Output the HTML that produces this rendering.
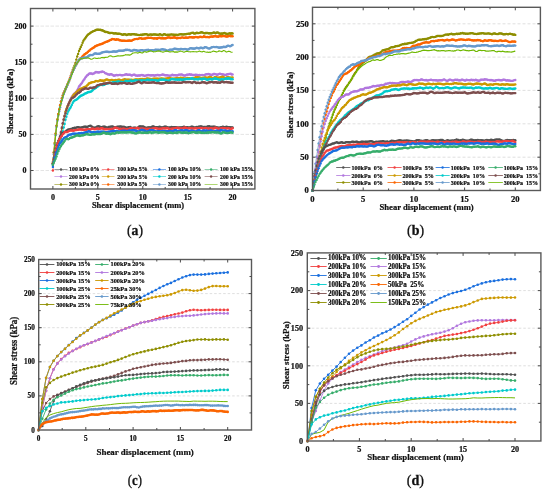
<!DOCTYPE html>
<html><head><meta charset="utf-8"><title>Shear stress vs displacement</title>
<style>html,body{margin:0;padding:0;background:#fff;}svg{display:block;}text{font-family:'Liberation Serif', serif;fill:#111;} .b{stroke:#111;stroke-width:0.22px;} .c{stroke:#111;stroke-width:0.3px;}</style>
</head><body>
<svg width="550" height="493" viewBox="0 0 550 493">
<defs><marker id="m0" viewBox="-2 -2 4 4" markerWidth="4" markerHeight="4" markerUnits="userSpaceOnUse" refX="0" refY="0"><circle r="1.2" fill="#515151"/></marker><marker id="n0" viewBox="-2 -2 4 4" markerWidth="4" markerHeight="4" markerUnits="userSpaceOnUse" refX="0" refY="0"><circle r="1.3" fill="#515151"/></marker><marker id="m1" viewBox="-2 -2 4 4" markerWidth="4" markerHeight="4" markerUnits="userSpaceOnUse" refX="0" refY="0"><circle r="1.2" fill="#F14040"/></marker><marker id="n1" viewBox="-2 -2 4 4" markerWidth="4" markerHeight="4" markerUnits="userSpaceOnUse" refX="0" refY="0"><circle r="1.3" fill="#F14040"/></marker><marker id="m2" viewBox="-2 -2 4 4" markerWidth="4" markerHeight="4" markerUnits="userSpaceOnUse" refX="0" refY="0"><circle r="1.2" fill="#1A6FDF"/></marker><marker id="n2" viewBox="-2 -2 4 4" markerWidth="4" markerHeight="4" markerUnits="userSpaceOnUse" refX="0" refY="0"><circle r="1.3" fill="#1A6FDF"/></marker><marker id="m3" viewBox="-2 -2 4 4" markerWidth="4" markerHeight="4" markerUnits="userSpaceOnUse" refX="0" refY="0"><circle r="1.2" fill="#37AD6B"/></marker><marker id="n3" viewBox="-2 -2 4 4" markerWidth="4" markerHeight="4" markerUnits="userSpaceOnUse" refX="0" refY="0"><circle r="1.3" fill="#37AD6B"/></marker><marker id="m4" viewBox="-2 -2 4 4" markerWidth="4" markerHeight="4" markerUnits="userSpaceOnUse" refX="0" refY="0"><circle r="1.2" fill="#B177DE"/></marker><marker id="n4" viewBox="-2 -2 4 4" markerWidth="4" markerHeight="4" markerUnits="userSpaceOnUse" refX="0" refY="0"><circle r="1.3" fill="#B177DE"/></marker><marker id="m5" viewBox="-2 -2 4 4" markerWidth="4" markerHeight="4" markerUnits="userSpaceOnUse" refX="0" refY="0"><circle r="1.2" fill="#CC9900"/></marker><marker id="n5" viewBox="-2 -2 4 4" markerWidth="4" markerHeight="4" markerUnits="userSpaceOnUse" refX="0" refY="0"><circle r="1.3" fill="#CC9900"/></marker><marker id="m6" viewBox="-2 -2 4 4" markerWidth="4" markerHeight="4" markerUnits="userSpaceOnUse" refX="0" refY="0"><circle r="1.2" fill="#00CBCC"/></marker><marker id="n6" viewBox="-2 -2 4 4" markerWidth="4" markerHeight="4" markerUnits="userSpaceOnUse" refX="0" refY="0"><circle r="1.3" fill="#00CBCC"/></marker><marker id="m7" viewBox="-2 -2 4 4" markerWidth="4" markerHeight="4" markerUnits="userSpaceOnUse" refX="0" refY="0"><circle r="1.2" fill="#7D4E4E"/></marker><marker id="n7" viewBox="-2 -2 4 4" markerWidth="4" markerHeight="4" markerUnits="userSpaceOnUse" refX="0" refY="0"><circle r="1.3" fill="#7D4E4E"/></marker><marker id="m8" viewBox="-2 -2 4 4" markerWidth="4" markerHeight="4" markerUnits="userSpaceOnUse" refX="0" refY="0"><circle r="1.2" fill="#8E8E00"/></marker><marker id="n8" viewBox="-2 -2 4 4" markerWidth="4" markerHeight="4" markerUnits="userSpaceOnUse" refX="0" refY="0"><circle r="1.3" fill="#8E8E00"/></marker><marker id="m9" viewBox="-2 -2 4 4" markerWidth="4" markerHeight="4" markerUnits="userSpaceOnUse" refX="0" refY="0"><circle r="1.2" fill="#FB6501"/></marker><marker id="n9" viewBox="-2 -2 4 4" markerWidth="4" markerHeight="4" markerUnits="userSpaceOnUse" refX="0" refY="0"><circle r="1.3" fill="#FB6501"/></marker><marker id="m10" viewBox="-2 -2 4 4" markerWidth="4" markerHeight="4" markerUnits="userSpaceOnUse" refX="0" refY="0"><circle r="1.2" fill="#6699CC"/></marker><marker id="n10" viewBox="-2 -2 4 4" markerWidth="4" markerHeight="4" markerUnits="userSpaceOnUse" refX="0" refY="0"><circle r="1.3" fill="#6699CC"/></marker><marker id="m11" viewBox="-2 -2 4 4" markerWidth="4" markerHeight="4" markerUnits="userSpaceOnUse" refX="0" refY="0"><circle r="1.2" fill="#6FB802"/></marker><marker id="n11" viewBox="-2 -2 4 4" markerWidth="4" markerHeight="4" markerUnits="userSpaceOnUse" refX="0" refY="0"><circle r="1.3" fill="#6FB802"/></marker></defs>
<path d="M30.5 170.5H254.9M30.5 134.4H254.9M30.5 98.3H254.9M30.5 62.2H254.9M30.5 26.1H254.9" stroke="#dddddd" stroke-width="0.8" stroke-dasharray="3.5 1.5" fill="none"/>
<polyline points="52.9,163.3 53.8,152.8 54.7,143.1 55.6,133.7 56.5,125.7 57.4,119.5 58.3,114.1 59.2,109.4 60.1,105.1 61,101.5 61.9,98.1 62.8,95.4 63.7,93 64.6,91.1 65.5,88.8 66.4,86.7 67.3,84.5 68.2,82.7 69.1,80.7 70,78.3 70.9,75.7 71.8,72.8 72.7,69.9 73.6,67.7 74.5,65.6 75.4,63 76.3,59.6 77.2,56.5 78.1,53.9 79,51 79.9,49 80.8,47 81.7,45.1 82.6,42.8 83.4,40.7 84.3,39.4 85.2,38.2 86.1,36.9 87,35.7 87.9,34.7 88.8,34.1 89.7,33.4 90.6,32.8 91.5,32.1 92.4,31.7 93.3,31.1 94.2,30.9 95.1,30.4 96,30 96.9,29.6 97.8,29.7 98.7,29.7 99.6,29.9 100.5,29.7 101.4,30.3 102.3,30.3 103.2,30.8 104.1,31.2 105,31.7 105.9,32 106.8,31.9 107.7,32.3 108.6,32.7 109.5,33 110.4,33 111.3,32.9 112.2,32.9 113.1,33.3 114,33.4 114.9,33.4 115.8,33.3 116.7,33.6 117.6,33.8 118.5,33.8 119.4,33.6 120.3,33.9 121.2,34.3 122.1,34.6 123,34.7 123.9,34.3 124.8,34.2 125.7,34.5 126.6,35 127.5,34.8 128.4,34.3 129.3,34.2 130.2,34.5 131.1,34.5 132,34.3 132.9,34.1 133.8,34.2 134.7,34.3 135.6,34.6 136.5,34.4 137.4,34.9 138.3,34.9 139.2,35.1 140.1,34.9 141,34.8 141.9,35 142.8,34.5 143.6,34.6 144.5,34.3 145.4,34.2 146.3,34.1 147.2,34.5 148.1,35.1 149,34.8 149.9,34.6 150.8,34.4 151.7,34.8 152.6,34.8 153.5,34.4 154.4,34.5 155.3,34.4 156.2,34.7 157.1,34.6 158,34.9 158.9,34.6 159.8,34.3 160.7,34.4 161.6,35.1 162.5,35.3 163.4,34.4 164.3,34.1 165.2,34.5 166.1,34.9 167,34.9 167.9,34.7 168.8,34.9 169.7,34.6 170.6,34.6 171.5,34.4 172.4,34.6 173.3,34.7 174.2,34.8 175.1,35 176,34.8 176.9,34.9 177.8,34.9 178.7,34.6 179.6,34.4 180.5,34.1 181.4,34.3 182.3,34.4 183.2,34.4 184.1,34.4 185,34.1 185.9,34.2 186.8,33.9 187.7,33.9 188.6,33.6 189.5,33.8 190.4,33.6 191.3,32.9 192.2,32.9 193.1,32.8 194,33.6 194.9,33.4 195.8,33.2 196.7,32.8 197.6,33 198.5,33.1 199.4,32.9 200.3,32.6 201.2,32.2 202.1,32.4 202.9,32.6 203.8,33.1 204.7,33.2 205.6,33 206.5,33 207.4,32.9 208.3,33.3 209.2,33.2 210.1,33.3 211,33.2 211.9,33.3 212.8,32.9 213.7,32.5 214.6,32.7 215.5,33.2 216.4,32.7 217.3,32.5 218.2,32.6 219.1,33.4 220,33.6 220.9,33.7 221.8,33.5 222.7,33.7 223.6,33.1 224.5,33 225.4,33.5 226.3,33.8 227.2,34.4 228.1,33.6 229,33.6 229.9,33.2 230.8,33.7 231.7,33.3 232.6,33.5" fill="none" stroke="#8E8E00" stroke-width="0.7" stroke-linejoin="round" marker-start="url(#m8)" marker-mid="url(#m8)" marker-end="url(#m8)"/>
<polyline points="52.9,161.8 53.8,152.2 54.7,143.1 55.6,133.8 56.5,125.9 57.4,119.5 58.3,114.2 59.2,109.4 60.1,105.5 61,101.7 61.9,98.4 62.8,95.7 63.7,93.2 64.6,91.2 65.5,89.2 66.4,87.1 67.3,84.8 68.2,82.5 69.1,80.4 70,78 70.9,75.8 71.8,73.5 72.7,71.6 73.6,69.6 74.5,67.9 75.4,65.8 76.3,64.3 77.2,62.8 78.1,61.6 79,60 79.9,58.8 80.8,58.3 81.7,57.4 82.6,56.3 83.4,55.4 84.3,54.5 85.2,54 86.1,53.2 87,52.7 87.9,51.9 88.8,50.9 89.7,50.5 90.6,49.4 91.5,48.9 92.4,48.2 93.3,47.8 94.2,47.2 95.1,46.3 96,46 96.9,45.5 97.8,45.2 98.7,44.9 99.6,44.4 100.5,44.3 101.4,44 102.3,43.8 103.2,43.2 104.1,42.6 105,42.4 105.9,41.9 106.8,41.7 107.7,41.3 108.6,41 109.5,40.5 110.4,39.9 111.3,39.7 112.2,39 113.1,39.1 114,39.3 114.9,39.4 115.8,39.9 116.7,39.2 117.6,39.6 118.5,39.5 119.4,40.2 120.3,40.2 121.2,40.6 122.1,40.8 123,40.8 123.9,40.6 124.8,40.8 125.7,40.9 126.6,40.9 127.5,40.7 128.4,40.7 129.3,40.5 130.2,40.7 131.1,40.7 132,40.6 132.9,39.9 133.8,39.6 134.7,39.1 135.6,39.1 136.5,38.9 137.4,39.1 138.3,38.8 139.2,38.4 140.1,38.1 141,38.3 141.9,38.7 142.8,38.6 143.6,38.6 144.5,38.5 145.4,38.5 146.3,38 147.2,38 148.1,37.8 149,37.9 149.9,37.9 150.8,37.7 151.7,38 152.6,38.1 153.5,38.5 154.4,38.3 155.3,38.4 156.2,38.3 157.1,38.7 158,38 158.9,38 159.8,37.8 160.7,38.3 161.6,38.3 162.5,38.2 163.4,38.3 164.3,38.4 165.2,38.3 166.1,38.2 167,37.8 167.9,37.5 168.8,37.4 169.7,37.5 170.6,38 171.5,37.8 172.4,37.9 173.3,37.5 174.2,37.3 175.1,37.8 176,37.8 176.9,38.4 177.8,37.8 178.7,38.1 179.6,37.9 180.5,38 181.4,37.6 182.3,37.4 183.2,37.6 184.1,37.9 185,37.7 185.9,37.5 186.8,37.7 187.7,37.7 188.6,37.6 189.5,37 190.4,37.2 191.3,37.1 192.2,37.5 193.1,37.3 194,37.5 194.9,37.1 195.8,37 196.7,37.1 197.6,37.2 198.5,37.4 199.4,36.9 200.3,36.7 201.2,37 202.1,37.1 202.9,37.1 203.8,36.3 204.7,36.7 205.6,37 206.5,37.1 207.4,37 208.3,37.1 209.2,37.3 210.1,36.7 211,36.6 211.9,36.5 212.8,36.7 213.7,36.2 214.6,36.3 215.5,36 216.4,36.5 217.3,36.5 218.2,36.7 219.1,36.3 220,36 220.9,36.2 221.8,36.2 222.7,36.1 223.6,36 224.5,36.1 225.4,36.3 226.3,36.6 227.2,36.5 228.1,36.3 229,36.1 229.9,35.9 230.8,36.3 231.7,36.1 232.6,36.3" fill="none" stroke="#FB6501" stroke-width="0.7" stroke-linejoin="round" marker-start="url(#m9)" marker-mid="url(#m9)" marker-end="url(#m9)"/>
<polyline points="52.9,164.7 53.8,154.2 54.7,144.5 55.6,135.2 56.5,127 57.4,120.7 58.3,115.6 59.2,111.3 60.1,107.2 61,103.6 61.9,100 62.8,97.4 63.7,94.3 64.6,91.7 65.5,89.4 66.4,87.2 67.3,85.2 68.2,82.9 69.1,81 70,78.9 70.9,76.5 71.8,74.1 72.7,72 73.6,69.9 74.5,68 75.4,66 76.3,64.4 77.2,62.4 78.1,61.4 79,59.9 79.9,59.2 80.8,58.4 81.7,58.4 82.6,58 83.4,57.6 84.3,57.5 85.2,57.6 86.1,57.5 87,57.2 87.9,56.5 88.8,55.8 89.7,55.2 90.6,55 91.5,55.1 92.4,55 93.3,54.6 94.2,53.8 95.1,53.4 96,53.5 96.9,53.7 97.8,53.9 98.7,53.8 99.6,53.7 100.5,53.4 101.4,52.7 102.3,52.5 103.2,52.1 104.1,52 105,51.9 105.9,51.7 106.8,51.8 107.7,51.8 108.6,52 109.5,52 110.4,51.9 111.3,51.9 112.2,51.7 113.1,51.5 114,51.5 114.9,51.5 115.8,51.8 116.7,51.5 117.6,51.3 118.5,50.8 119.4,50.7 120.3,50.7 121.2,50.8 122.1,50.8 123,50.8 123.9,50.4 124.8,50.2 125.7,49.8 126.6,50 127.5,49.8 128.4,50.1 129.3,50 130.2,50.4 131.1,50.9 132,50.8 132.9,50.4 133.8,50 134.7,50 135.6,50.3 136.5,50.2 137.4,50.7 138.3,50.6 139.2,50.7 140.1,50.5 141,50.1 141.9,50.3 142.8,50.3 143.6,51 144.5,50.4 145.4,50.4 146.3,50 147.2,50.1 148.1,49.8 149,50.2 149.9,50.5 150.8,50.1 151.7,50.1 152.6,50.2 153.5,50.5 154.4,50.1 155.3,49.8 156.2,49.6 157.1,50 158,49.8 158.9,49.9 159.8,50 160.7,49.8 161.6,49.4 162.5,49.2 163.4,49.5 164.3,49.7 165.2,49.8 166.1,50.3 167,50.8 167.9,50.6 168.8,50.3 169.7,49.8 170.6,49.6 171.5,49.7 172.4,49.7 173.3,49.3 174.2,48.8 175.1,48.6 176,49 176.9,49 177.8,49.4 178.7,49.2 179.6,49.4 180.5,48.9 181.4,48.9 182.3,49.1 183.2,49.3 184.1,49.1 185,49 185.9,49.1 186.8,49.5 187.7,49.6 188.6,49.2 189.5,48.7 190.4,48.1 191.3,48.2 192.2,48.5 193.1,48.5 194,48.7 194.9,48.4 195.8,48.2 196.7,47.8 197.6,48.1 198.5,48.2 199.4,48.4 200.3,47.8 201.2,47.7 202.1,48 202.9,48.3 203.8,47.9 204.7,47.2 205.6,47.1 206.5,47.4 207.4,47.9 208.3,48.4 209.2,48.6 210.1,48.2 211,47.6 211.9,47.2 212.8,47.1 213.7,46.9 214.6,47.1 215.5,47.1 216.4,47 217.3,47.1 218.2,47.4 219.1,47.8 220,47.5 220.9,47.5 221.8,47.3 222.7,47.3 223.6,46.8 224.5,47 225.4,47 226.3,46.7 227.2,46 228.1,45.8 229,45.9 229.9,46.3 230.8,46.1 231.7,45.3 232.6,45" fill="none" stroke="#6699CC" stroke-width="0.7" stroke-linejoin="round" marker-start="url(#m10)" marker-mid="url(#m10)" marker-end="url(#m10)"/>
<polyline points="52.9,164.7 53.8,154.2 54.7,144.4 55.6,135.1 56.5,127.3 57.4,121.2 58.3,115.6 59.2,110.9 60.1,106.7 61,103.7 61.9,100.1 62.8,96.9 63.7,94.1 64.6,91.6 65.5,89.4 66.4,87.1 67.3,84.6 68.2,82.5 69.1,80.5 70,78.9 70.9,77 71.8,74.5 72.7,72.3 73.6,69.4 74.5,67.1 75.4,65.2 76.3,64.1 77.2,62.7 78.1,61.7 79,60.5 79.9,59.6 80.8,58.7 81.7,58.5 82.6,58.8 83.4,58.4 84.3,58.2 85.2,58 86.1,58 87,58 87.9,57.9 88.8,58.1 89.7,58.5 90.6,59.1 91.5,59.2 92.4,59 93.3,58.4 94.2,58 95.1,58 96,58.4 96.9,58.5 97.8,58.4 98.7,58.1 99.6,58.2 100.5,58.1 101.4,57.6 102.3,57.6 103.2,57.4 104.1,58 105,57.3 105.9,57.4 106.8,57.3 107.7,57.2 108.6,56.6 109.5,56.1 110.4,55.8 111.3,56.1 112.2,56.6 113.1,56.7 114,56.7 114.9,56.5 115.8,56.4 116.7,56.1 117.6,55.9 118.5,55.8 119.4,56 120.3,55.7 121.2,56 122.1,55.6 123,55.9 123.9,55.3 124.8,55.3 125.7,54.6 126.6,55 127.5,54.9 128.4,54.9 129.3,55.1 130.2,54.9 131.1,54.6 132,53.7 132.9,53 133.8,53 134.7,52.7 135.6,52.8 136.5,52.8 137.4,53.1 138.3,52.9 139.2,52.5 140.1,52.2 141,52.7 141.9,52.9 142.8,52.9 143.6,52.1 144.5,51.8 145.4,51.8 146.3,52.4 147.2,51.8 148.1,51.9 149,51 149.9,51.1 150.8,50.8 151.7,51.3 152.6,51.6 153.5,51.9 154.4,51.8 155.3,51.8 156.2,51.4 157.1,51.3 158,50.9 158.9,51.1 159.8,51.1 160.7,51.6 161.6,51.7 162.5,52.1 163.4,52.1 164.3,51.7 165.2,51.4 166.1,50.9 167,51.1 167.9,51.3 168.8,51.7 169.7,51.9 170.6,51.9 171.5,51.7 172.4,51.7 173.3,51.6 174.2,52.1 175.1,51.9 176,52.1 176.9,51.9 177.8,52.1 178.7,51.7 179.6,51.5 180.5,51 181.4,51.2 182.3,51.6 183.2,51.9 184.1,52.2 185,51.8 185.9,51.5 186.8,51.2 187.7,51.4 188.6,51.7 189.5,51.8 190.4,51.9 191.3,51.8 192.2,51.8 193.1,51.6 194,51.8 194.9,51.8 195.8,51.8 196.7,51.9 197.6,51.8 198.5,51.5 199.4,51 200.3,51.4 201.2,51.8 202.1,51.9 202.9,51.5 203.8,51.3 204.7,51.8 205.6,52 206.5,52.2 207.4,52 208.3,52.4 209.2,52.1 210.1,52.5 211,52 211.9,51.7 212.8,51.3 213.7,51 214.6,51.5 215.5,51.6 216.4,52.1 217.3,51.7 218.2,51.5 219.1,50.8 220,51.3 220.9,51.3 221.8,51.7 222.7,51.1 223.6,50.6 224.5,50.8 225.4,51.3 226.3,52.1 227.2,51.7 228.1,51.4 229,51.2 229.9,51.5 230.8,52 231.7,52.2 232.6,52.2" fill="none" stroke="#6FB802" stroke-width="1.1" stroke-linejoin="round"/>
<polyline points="52.9,163.3 53.8,159.6 54.7,156 55.6,152.5 56.5,149 57.4,145.9 58.3,142.7 59.2,139.7 60.1,135.8 61,131.6 61.9,127.1 62.8,123.2 63.7,119.2 64.6,115.4 65.5,111.7 66.4,108.8 67.3,106.1 68.2,103.9 69.1,102 70,100.1 70.9,98.4 71.8,97 72.7,95.8 73.6,94.6 74.5,93.5 75.4,92.6 76.3,91.6 77.2,90.2 78.1,88.5 79,86.5 79.9,85.5 80.8,84.3 81.7,83.3 82.6,81.7 83.4,80.4 84.3,79.2 85.2,77.7 86.1,76.8 87,75.5 87.9,75 88.8,74 89.7,73.4 90.6,73.5 91.5,73.5 92.4,74 93.3,73.6 94.2,73.3 95.1,72.5 96,72 96.9,72.2 97.8,72.3 98.7,72.5 99.6,72.2 100.5,71.9 101.4,72 102.3,71.5 103.2,71.9 104.1,72.1 105,73.1 105.9,73.4 106.8,73.6 107.7,74.2 108.6,74.4 109.5,74.7 110.4,74.3 111.3,74.3 112.2,74.6 113.1,75.2 114,75.7 114.9,75.4 115.8,75.2 116.7,74.9 117.6,75.2 118.5,75.1 119.4,74.9 120.3,75 121.2,75.1 122.1,75.4 123,75.1 123.9,75.1 124.8,74.8 125.7,74.5 126.6,74.3 127.5,74.9 128.4,74.7 129.3,74.8 130.2,74.7 131.1,75.3 132,75.5 132.9,74.9 133.8,74.8 134.7,74.7 135.6,75.6 136.5,75.5 137.4,75.7 138.3,75.5 139.2,75.5 140.1,75.5 141,75.1 141.9,75 142.8,75.2 143.6,75.4 144.5,76 145.4,75.6 146.3,75.4 147.2,75.3 148.1,74.9 149,75.2 149.9,75.1 150.8,75.5 151.7,75.3 152.6,75.3 153.5,75.3 154.4,75.8 155.3,75.2 156.2,75.2 157.1,75 158,75 158.9,75.3 159.8,75.3 160.7,75.1 161.6,74.9 162.5,74.5 163.4,74.8 164.3,75 165.2,75.3 166.1,75.3 167,75.3 167.9,75.4 168.8,75.6 169.7,75.8 170.6,75.6 171.5,75.3 172.4,74.8 173.3,75.2 174.2,75.1 175.1,75.3 176,75.2 176.9,75.4 177.8,75.2 178.7,74.7 179.6,74.6 180.5,74.6 181.4,74.5 182.3,74.6 183.2,75.3 184.1,75.6 185,75.5 185.9,75.2 186.8,74.8 187.7,74.7 188.6,74.6 189.5,74.3 190.4,74.7 191.3,74.5 192.2,75 193.1,75 194,75 194.9,75 195.8,74.7 196.7,75 197.6,74.9 198.5,75.2 199.4,75 200.3,75.1 201.2,75.1 202.1,74.9 202.9,75.1 203.8,75.1 204.7,75 205.6,74.5 206.5,74.1 207.4,74.2 208.3,73.9 209.2,74.3 210.1,74.5 211,75.2 211.9,74.7 212.8,74.5 213.7,74 214.6,74 215.5,74.1 216.4,74.5 217.3,74.9 218.2,74.3 219.1,73.9 220,73.6 220.9,74.1 221.8,74.3 222.7,74.5 223.6,74.5 224.5,74.9 225.4,74.9 226.3,74.8 227.2,74.2 228.1,74.2 229,73.9 229.9,73.9 230.8,73.7 231.7,74.5 232.6,74.4" fill="none" stroke="#B177DE" stroke-width="0.7" stroke-linejoin="round" marker-start="url(#m4)" marker-mid="url(#m4)" marker-end="url(#m4)"/>
<polyline points="52.9,163.3 53.8,159.5 54.7,155.9 55.6,152.5 56.5,149.3 57.4,146.2 58.3,143.5 59.2,140.5 60.1,137.3 61,133.3 61.9,128.5 62.8,124.1 63.7,119.7 64.6,116 65.5,111.8 66.4,109 67.3,106.4 68.2,104.7 69.1,102.8 70,101.2 70.9,99.7 71.8,97.9 72.7,96.2 73.6,94.8 74.5,94 75.4,93.4 76.3,92.3 77.2,91.5 78.1,90.5 79,90 79.9,89 80.8,88.8 81.7,88.4 82.6,88.3 83.4,87.5 84.3,87.3 85.2,86.7 86.1,86.7 87,85.5 87.9,84.8 88.8,83.5 89.7,83.3 90.6,82.7 91.5,82.5 92.4,82.1 93.3,82.1 94.2,81.9 95.1,81.4 96,80.9 96.9,81.1 97.8,81.2 98.7,81.1 99.6,80.5 100.5,80.2 101.4,80.7 102.3,80.5 103.2,80.9 104.1,80.5 105,80.4 105.9,79.6 106.8,79.5 107.7,79.6 108.6,80.1 109.5,80.2 110.4,80.2 111.3,80 112.2,79.9 113.1,80.4 114,80.4 114.9,80.2 115.8,80 116.7,80.2 117.6,79.9 118.5,79.7 119.4,79.6 120.3,80.2 121.2,80.4 122.1,80.3 123,79.8 123.9,79.7 124.8,79.3 125.7,79.7 126.6,79.7 127.5,79.8 128.4,79.7 129.3,79.7 130.2,79.9 131.1,79.7 132,79.9 132.9,79.9 133.8,80 134.7,79.7 135.6,79.4 136.5,79.5 137.4,79.5 138.3,79.6 139.2,79.3 140.1,79.2 141,78.9 141.9,79.2 142.8,78.9 143.6,79.4 144.5,79.2 145.4,79.3 146.3,78.7 147.2,78.4 148.1,78.6 149,78.7 149.9,78.9 150.8,79 151.7,79.1 152.6,79 153.5,78.6 154.4,78.8 155.3,78.7 156.2,78.8 157.1,78.6 158,78.6 158.9,78.9 159.8,78.7 160.7,78.7 161.6,78.4 162.5,78.7 163.4,78.7 164.3,79 165.2,78.8 166.1,78.7 167,78.4 167.9,78.2 168.8,78.3 169.7,78 170.6,78.2 171.5,78.6 172.4,78.8 173.3,78.7 174.2,78.6 175.1,78.5 176,78.4 176.9,78 177.8,78.2 178.7,78.2 179.6,78.2 180.5,77.8 181.4,77.9 182.3,78 183.2,78.2 184.1,78.5 185,78.8 185.9,78.4 186.8,78.4 187.7,77.9 188.6,78.5 189.5,78.3 190.4,78.8 191.3,78.8 192.2,78.4 193.1,78.3 194,77.9 194.9,78 195.8,77.3 196.7,77.5 197.6,77.2 198.5,77.5 199.4,77.4 200.3,78 201.2,77.9 202.1,78.1 202.9,77.8 203.8,77.9 204.7,77.4 205.6,77.4 206.5,77.6 207.4,77.9 208.3,77.4 209.2,76.9 210.1,77.2 211,77.2 211.9,78.4 212.8,78 213.7,78.4 214.6,77.3 215.5,77.3 216.4,77.2 217.3,77.7 218.2,77.8 219.1,77.6 220,77.5 220.9,77.2 221.8,76.9 222.7,76.7 223.6,77.1 224.5,77.8 225.4,78.1 226.3,77.6 227.2,77.3 228.1,77.3 229,77.5 229.9,77.7 230.8,77.8 231.7,77.7 232.6,77.4" fill="none" stroke="#CC9900" stroke-width="0.7" stroke-linejoin="round" marker-start="url(#m5)" marker-mid="url(#m5)" marker-end="url(#m5)"/>
<polyline points="52.9,164.7 53.8,161.8 54.7,159 55.6,156.1 56.5,153.4 57.4,150.6 58.3,147.7 59.2,145 60.1,142.1 61,138.7 61.9,134.6 62.8,131.2 63.7,127.5 64.6,124 65.5,119.8 66.4,116.7 67.3,113.8 68.2,111.6 69.1,109.8 70,108.3 70.9,106.7 71.8,105 72.7,103 73.6,101.4 74.5,100.6 75.4,100.1 76.3,99.8 77.2,99.1 78.1,98.3 79,97.2 79.9,96.5 80.8,95.7 81.7,95.5 82.6,95 83.4,94.8 84.3,94 85.2,93.4 86.1,93.2 87,92.7 87.9,92.3 88.8,92 89.7,92 90.6,91.8 91.5,91.2 92.4,90.4 93.3,89.5 94.2,88.9 95.1,88.3 96,87.8 96.9,87.1 97.8,86.4 98.7,85.6 99.6,85.3 100.5,84.8 101.4,84.9 102.3,85 103.2,85.1 104.1,84.7 105,84.2 105.9,83.8 106.8,83.5 107.7,83.5 108.6,83.1 109.5,83.1 110.4,82.8 111.3,82.9 112.2,82.8 113.1,82.1 114,82.3 114.9,82.1 115.8,82.3 116.7,81.6 117.6,81.6 118.5,81.4 119.4,81.7 120.3,81.9 121.2,82 122.1,82 123,82.2 123.9,82.1 124.8,81.6 125.7,80.8 126.6,81.1 127.5,81.2 128.4,81.5 129.3,81 130.2,80.8 131.1,80.4 132,81.2 132.9,81.1 133.8,80.9 134.7,80.2 135.6,80.2 136.5,80.4 137.4,80.7 138.3,80.7 139.2,80.6 140.1,80.5 141,80.6 141.9,80.3 142.8,80.6 143.6,80.5 144.5,80.9 145.4,80.4 146.3,80.1 147.2,79.6 148.1,79.7 149,80.3 149.9,80 150.8,80.1 151.7,79.7 152.6,80.2 153.5,80.3 154.4,80.2 155.3,80.1 156.2,80.1 157.1,80.7 158,80.7 158.9,80.5 159.8,79.8 160.7,79.8 161.6,79.8 162.5,79.6 163.4,79.7 164.3,79.4 165.2,80.1 166.1,80.2 167,80.7 167.9,80.8 168.8,80.7 169.7,80.2 170.6,79.4 171.5,79.1 172.4,79 173.3,79.2 174.2,79.3 175.1,79.6 176,79.6 176.9,79.4 177.8,79.7 178.7,79.4 179.6,79.7 180.5,79.2 181.4,79.7 182.3,79.7 183.2,79.8 184.1,79.3 185,79.4 185.9,79 186.8,79.1 187.7,79 188.6,79 189.5,79.1 190.4,78.7 191.3,78.5 192.2,78.3 193.1,78.7 194,79.2 194.9,79.3 195.8,79.1 196.7,79.1 197.6,79.4 198.5,79.3 199.4,78.6 200.3,79 201.2,79 202.1,79.5 202.9,78.8 203.8,78.7 204.7,78.7 205.6,79.1 206.5,79.5 207.4,79.9 208.3,79.4 209.2,79.2 210.1,78.9 211,79.2 211.9,79.4 212.8,79.2 213.7,78.9 214.6,78.3 215.5,78.7 216.4,78.7 217.3,79.1 218.2,79.2 219.1,79.8 220,79.8 220.9,79.4 221.8,79.3 222.7,79.5 223.6,79.5 224.5,78.9 225.4,78.7 226.3,78.5 227.2,78.9 228.1,78.2 229,78.7 229.9,78.5 230.8,79.3 231.7,79 232.6,79.3" fill="none" stroke="#00CBCC" stroke-width="0.7" stroke-linejoin="round" marker-start="url(#m6)" marker-mid="url(#m6)" marker-end="url(#m6)"/>
<polyline points="52.9,163.3 53.8,159.5 54.7,155.9 55.6,152.5 56.5,149.4 57.4,146.2 58.3,143.4 59.2,140.1 60.1,136.5 61,132.2 61.9,127.7 62.8,123.3 63.7,119.7 64.6,116.2 65.5,113.3 66.4,110.3 67.3,107.8 68.2,105.2 69.1,103.2 70,101 70.9,99.6 71.8,98.3 72.7,97.9 73.6,97.3 74.5,96.7 75.4,95.8 76.3,94.6 77.2,94 78.1,92.9 79,92.8 79.9,92 80.8,91.2 81.7,89.9 82.6,89.6 83.4,89.3 84.3,88.9 85.2,88.3 86.1,88.4 87,88.6 87.9,88.9 88.8,88.6 89.7,88 90.6,87.7 91.5,88 92.4,88 93.3,87.5 94.2,87.5 95.1,87.2 96,86.6 96.9,85.6 97.8,85.1 98.7,85.1 99.6,84.6 100.5,84.5 101.4,84.4 102.3,84.2 103.2,83.8 104.1,83.4 105,83.8 105.9,83.5 106.8,83.3 107.7,82.9 108.6,83 109.5,82.8 110.4,83.1 111.3,83.3 112.2,83.9 113.1,83.7 114,83.7 114.9,83.5 115.8,83.5 116.7,83.6 117.6,84 118.5,83.6 119.4,83.3 120.3,83 121.2,83.2 122.1,83.2 123,83 123.9,82.9 124.8,83 125.7,83.3 126.6,83.7 127.5,83.8 128.4,83.3 129.3,83.3 130.2,83.4 131.1,83.9 132,83.9 132.9,83.4 133.8,83.4 134.7,83.1 135.6,83 136.5,82.6 137.4,82.2 138.3,81.7 139.2,81.6 140.1,82.4 141,83.1 141.9,83.3 142.8,82.6 143.6,82.3 144.5,82.1 145.4,82.6 146.3,82.6 147.2,82.7 148.1,82.8 149,82.7 149.9,82.6 150.8,82.6 151.7,82.5 152.6,82.4 153.5,82.3 154.4,82.5 155.3,82.9 156.2,83.1 157.1,83 158,83 158.9,83 159.8,83.2 160.7,83.4 161.6,83.5 162.5,83.3 163.4,83.2 164.3,83.1 165.2,82.8 166.1,82.3 167,82.3 167.9,82.5 168.8,82.9 169.7,82.4 170.6,82.7 171.5,82.5 172.4,82.5 173.3,82.6 174.2,82.3 175.1,82.8 176,82.5 176.9,82.9 177.8,82.7 178.7,82.7 179.6,82.7 180.5,82.9 181.4,82.7 182.3,82.5 183.2,82 184.1,81.9 185,82.3 185.9,82.3 186.8,82.3 187.7,82.1 188.6,82.2 189.5,82.1 190.4,82.1 191.3,82.7 192.2,83 193.1,82.3 194,82 194.9,82.1 195.8,82.8 196.7,83 197.6,82.8 198.5,82.8 199.4,83.1 200.3,82.9 201.2,82.6 202.1,82.1 202.9,82.3 203.8,82.3 204.7,82.5 205.6,82.7 206.5,83.2 207.4,83 208.3,82.6 209.2,82.3 210.1,82.2 211,82.1 211.9,81.9 212.8,82.2 213.7,82.5 214.6,82.3 215.5,82.3 216.4,82.3 217.3,82.7 218.2,82.5 219.1,82.6 220,82.8 220.9,82.2 221.8,81.8 222.7,81.6 223.6,82.2 224.5,82.2 225.4,82.1 226.3,82 227.2,82.3 228.1,82.3 229,82.4 229.9,82.4 230.8,82.8 231.7,82.8 232.6,82.7" fill="none" stroke="#7D4E4E" stroke-width="0.7" stroke-linejoin="round" marker-start="url(#m7)" marker-mid="url(#m7)" marker-end="url(#m7)"/>
<polyline points="52.9,164.7 53.8,157.9 54.7,152.5 55.6,148.4 56.5,145.3 57.4,143 58.3,140.7 59.2,138.7 60.1,136.6 61,134.8 61.9,133.5 62.8,132.9 63.7,132.7 64.6,131.9 65.5,131.5 66.4,130.7 67.3,130.3 68.2,129.5 69.1,129.6 70,129.3 70.9,129 71.8,128.9 72.7,128.3 73.6,128.3 74.5,127.7 75.4,128 76.3,127.6 77.2,127.3 78.1,127.1 79,127.4 79.9,127.6 80.8,127.6 81.7,127.4 82.6,127.3 83.4,127 84.3,126.6 85.2,126.8 86.1,126.7 87,127.1 87.9,126.6 88.8,126.1 89.7,125.9 90.6,125.8 91.5,126.5 92.4,126.9 93.3,127.6 94.2,127.8 95.1,127.6 96,127.4 96.9,126.8 97.8,126.5 98.7,126.3 99.6,126.7 100.5,127 101.4,127.1 102.3,127 103.2,126.8 104.1,126.7 105,126.8 105.9,127.3 106.8,127.6 107.7,127.8 108.6,127 109.5,126.9 110.4,126.6 111.3,126.6 112.2,126.5 113.1,126.7 114,127.1 114.9,127.4 115.8,127.3 116.7,127 117.6,126.7 118.5,126.6 119.4,126.7 120.3,126.4 121.2,126.7 122.1,126.8 123,127.1 123.9,126.7 124.8,127.3 125.7,127.5 126.6,127.9 127.5,127.6 128.4,127.3 129.3,127.2 130.2,127 131.1,127.6 132,127.9 132.9,128 133.8,127.6 134.7,127.6 135.6,127.8 136.5,128.2 137.4,128.1 138.3,127.3 139.2,126.4 140.1,126.4 141,126.5 141.9,126.8 142.8,126.4 143.6,126.6 144.5,127.2 145.4,127.6 146.3,128 147.2,127.6 148.1,127.4 149,127.4 149.9,127.4 150.8,127.5 151.7,126.9 152.6,126.5 153.5,126.4 154.4,126.9 155.3,127.2 156.2,127.1 157.1,127.1 158,127.1 158.9,127 159.8,126.8 160.7,127.1 161.6,127.5 162.5,127.4 163.4,127.1 164.3,126.8 165.2,126.7 166.1,126.8 167,127.2 167.9,127.5 168.8,127.6 169.7,127.4 170.6,127.4 171.5,127 172.4,127.2 173.3,127.3 174.2,127.1 175.1,127.2 176,127.1 176.9,127.7 177.8,127.5 178.7,127.6 179.6,127.5 180.5,127.5 181.4,127.4 182.3,127.3 183.2,127 184.1,126.8 185,127.1 185.9,127.2 186.8,127.3 187.7,127.1 188.6,127.6 189.5,127.4 190.4,127.4 191.3,126.7 192.2,126.7 193.1,126.9 194,127.6 194.9,127.5 195.8,127.4 196.7,127 197.6,127.3 198.5,126.6 199.4,126.8 200.3,126.4 201.2,126.5 202.1,126.7 202.9,127.1 203.8,127 204.7,126.9 205.6,127 206.5,127.1 207.4,126.5 208.3,126.4 209.2,126.3 210.1,126.9 211,126.6 211.9,127 212.8,126.6 213.7,126.8 214.6,126.8 215.5,127 216.4,127.3 217.3,127.5 218.2,127.7 219.1,127.6 220,127.6 220.9,127.3 221.8,127.2 222.7,126.8 223.6,127 224.5,127.1 225.4,127.2 226.3,126.8 227.2,127 228.1,127.1 229,127.4 229.9,127.3 230.8,127.4 231.7,127.5 232.6,127.4" fill="none" stroke="#515151" stroke-width="0.7" stroke-linejoin="round" marker-start="url(#m0)" marker-mid="url(#m0)" marker-end="url(#m0)"/>
<polyline points="52.9,170.5 53.8,161.4 54.7,154.5 55.6,149.8 56.5,146.5 57.4,143.9 58.3,141.7 59.2,139.4 60.1,138.2 61,136.7 61.9,135.9 62.8,134.3 63.7,133.6 64.6,132.2 65.5,132 66.4,132.1 67.3,132 68.2,131.4 69.1,130.9 70,130.6 70.9,130.4 71.8,130.5 72.7,130.6 73.6,130.7 74.5,130.3 75.4,130.1 76.3,130 77.2,129.9 78.1,129.7 79,129.5 79.9,129.4 80.8,129.5 81.7,129.5 82.6,129.8 83.4,129.7 84.3,129.9 85.2,129.4 86.1,129.7 87,129.3 87.9,129.2 88.8,129.2 89.7,129.3 90.6,129.5 91.5,128.8 92.4,128.7 93.3,128.7 94.2,129.1 95.1,129.2 96,128.7 96.9,128.7 97.8,128.5 98.7,129 99.6,128.9 100.5,128.5 101.4,128.2 102.3,128.3 103.2,128.7 104.1,129.1 105,129 105.9,129.3 106.8,129 107.7,129.1 108.6,129.1 109.5,128.9 110.4,129.2 111.3,129 112.2,129.4 113.1,128.7 114,128.2 114.9,127.7 115.8,127.7 116.7,128 117.6,128.1 118.5,128.6 119.4,128.9 120.3,129 121.2,129 122.1,128.9 123,128.7 123.9,128.7 124.8,128.9 125.7,129.1 126.6,129.2 127.5,128.9 128.4,129.1 129.3,128.7 130.2,128.2 131.1,128.2 132,128.3 132.9,128.6 133.8,128.6 134.7,128.7 135.6,128.5 136.5,128.1 137.4,127.8 138.3,128.3 139.2,128.7 140.1,129 141,128.6 141.9,128.4 142.8,128.6 143.6,128.7 144.5,128.9 145.4,128.7 146.3,129.2 147.2,128.7 148.1,128.9 149,128.6 149.9,128.9 150.8,129 151.7,128.6 152.6,128.8 153.5,128.4 154.4,128.3 155.3,128 156.2,128.2 157.1,128.4 158,128.7 158.9,128.9 159.8,128.7 160.7,128.7 161.6,128.6 162.5,128.5 163.4,128.2 164.3,128.2 165.2,128.4 166.1,128.4 167,127.9 167.9,128.2 168.8,128.8 169.7,129 170.6,128.9 171.5,128.6 172.4,128.6 173.3,128.4 174.2,128.5 175.1,128.5 176,128 176.9,127.9 177.8,127.7 178.7,128.2 179.6,128.2 180.5,128.5 181.4,128.5 182.3,128.5 183.2,128.1 184.1,127.8 185,127.8 185.9,127.8 186.8,128.4 187.7,128.4 188.6,128.3 189.5,128.1 190.4,128.2 191.3,128.5 192.2,128.5 193.1,128.4 194,128.6 194.9,128.1 195.8,128.2 196.7,128.2 197.6,128.8 198.5,128.3 199.4,128.3 200.3,127.9 201.2,128.1 202.1,128 202.9,128.6 203.8,128.4 204.7,128.3 205.6,127.9 206.5,128.2 207.4,128.4 208.3,128.7 209.2,128.5 210.1,128.4 211,128.2 211.9,128.5 212.8,128.5 213.7,128.5 214.6,128 215.5,127.8 216.4,127.9 217.3,128.5 218.2,128.8 219.1,128.8 220,128.6 220.9,128.4 221.8,128.1 222.7,128 223.6,128.1 224.5,128.1 225.4,128.4 226.3,128.4 227.2,128.4 228.1,128.1 229,128.4 229.9,128.8 230.8,129.2 231.7,128.5 232.6,128.3" fill="none" stroke="#F14040" stroke-width="0.7" stroke-linejoin="round" marker-start="url(#m1)" marker-mid="url(#m1)" marker-end="url(#m1)"/>
<polyline points="52.9,166.9 53.8,161.6 54.7,157.4 55.6,154.5 56.5,152.3 57.4,149.8 58.3,147.2 59.2,145 60.1,143.3 61,142.4 61.9,141 62.8,139.8 63.7,138.3 64.6,137.6 65.5,137.2 66.4,136.9 67.3,136.3 68.2,135.3 69.1,134.8 70,134.6 70.9,134.5 71.8,134.2 72.7,133.8 73.6,133.8 74.5,133.7 75.4,133.7 76.3,133.9 77.2,133.6 78.1,133.7 79,133.2 79.9,133.5 80.8,133.1 81.7,133 82.6,133.2 83.4,132.9 84.3,132.8 85.2,132.4 86.1,132.2 87,131.9 87.9,131.6 88.8,131.3 89.7,131.4 90.6,132 91.5,132.3 92.4,132.4 93.3,132 94.2,132.1 95.1,132.3 96,132.1 96.9,131.7 97.8,131.7 98.7,131.7 99.6,131.9 100.5,131.7 101.4,131.7 102.3,131.6 103.2,131.6 104.1,131.7 105,132.1 105.9,132.1 106.8,132.1 107.7,132 108.6,131.8 109.5,131.6 110.4,131.4 111.3,131.4 112.2,131.3 113.1,130.9 114,131 114.9,131.1 115.8,131.1 116.7,130.9 117.6,131.1 118.5,131.5 119.4,131.5 120.3,131.5 121.2,130.9 122.1,130.9 123,130.6 123.9,131 124.8,130.7 125.7,130.9 126.6,131.2 127.5,130.9 128.4,130.9 129.3,130.5 130.2,130.8 131.1,130.5 132,130.4 132.9,130.2 133.8,130.2 134.7,130.4 135.6,130.6 136.5,130.9 137.4,131.3 138.3,131.4 139.2,131.5 140.1,130.5 141,130.1 141.9,129.6 142.8,130.3 143.6,130.2 144.5,130.8 145.4,131 146.3,131.6 147.2,131.4 148.1,131.1 149,130.9 149.9,130.3 150.8,130.1 151.7,129.9 152.6,130.2 153.5,130.5 154.4,130.9 155.3,131.3 156.2,131.5 157.1,131.4 158,130.9 158.9,131.1 159.8,131.3 160.7,131.4 161.6,131.3 162.5,130.9 163.4,131 164.3,131 165.2,131.3 166.1,131.3 167,131.3 167.9,131.1 168.8,131.2 169.7,131 170.6,130.9 171.5,131.1 172.4,131.2 173.3,131.1 174.2,130.5 175.1,130.3 176,130.3 176.9,130.8 177.8,131.2 178.7,131 179.6,130.9 180.5,130.5 181.4,130.4 182.3,130.5 183.2,130.6 184.1,130.9 185,130.3 185.9,130.2 186.8,130.3 187.7,130.6 188.6,131 189.5,130.9 190.4,131 191.3,130.7 192.2,130.6 193.1,130.9 194,131.3 194.9,131.5 195.8,131.5 196.7,131.2 197.6,130.7 198.5,130.2 199.4,130.1 200.3,130.9 201.2,131.4 202.1,131.3 202.9,130.8 203.8,130.5 204.7,130.6 205.6,130.8 206.5,130.5 207.4,130.9 208.3,130.9 209.2,131.1 210.1,130.5 211,130.4 211.9,130.7 212.8,131.1 213.7,131.5 214.6,131.2 215.5,131 216.4,130.6 217.3,130.8 218.2,131.1 219.1,130.9 220,130.7 220.9,130 221.8,130.3 222.7,130.6 223.6,130.8 224.5,130.7 225.4,130.4 226.3,131 227.2,131.2 228.1,131.1 229,130.6 229.9,131.3 230.8,131.2 231.7,131.9 232.6,131.3" fill="none" stroke="#1A6FDF" stroke-width="0.7" stroke-linejoin="round" marker-start="url(#m2)" marker-mid="url(#m2)" marker-end="url(#m2)"/>
<polyline points="52.9,164.7 53.8,162.7 54.7,160.8 55.6,158.8 56.5,156.5 57.4,153.8 58.3,151.3 59.2,149.2 60.1,147.6 61,145.9 61.9,144.6 62.8,143.5 63.7,142.2 64.6,141.1 65.5,139.5 66.4,138.8 67.3,138.9 68.2,139.3 69.1,138.9 70,137.9 70.9,137.7 71.8,137.5 72.7,137.3 73.6,136.7 74.5,136.5 75.4,136 76.3,135.5 77.2,135.2 78.1,135.5 79,135.8 79.9,136 80.8,135.6 81.7,135.4 82.6,135.2 83.4,135.3 84.3,134.9 85.2,134.6 86.1,134.1 87,134.2 87.9,134.2 88.8,134.6 89.7,134.7 90.6,134.9 91.5,134.5 92.4,134.3 93.3,134.3 94.2,134.4 95.1,134.2 96,133.9 96.9,134 97.8,134 98.7,134.1 99.6,134 100.5,134 101.4,133.7 102.3,133.2 103.2,132.8 104.1,132.7 105,133.2 105.9,133.5 106.8,133.7 107.7,133.3 108.6,133.8 109.5,133.7 110.4,134.3 111.3,133.7 112.2,133.4 113.1,133.1 114,133.6 114.9,133.6 115.8,133 116.7,132.4 117.6,132.4 118.5,132.8 119.4,132.6 120.3,132.5 121.2,132.2 122.1,132.4 123,132.4 123.9,132.3 124.8,132.5 125.7,132.4 126.6,132.5 127.5,132.3 128.4,132.3 129.3,132.2 130.2,132.1 131.1,132.5 132,132.5 132.9,132.8 133.8,132.8 134.7,133.3 135.6,133.4 136.5,133.3 137.4,132.9 138.3,132.5 139.2,132.5 140.1,132.4 141,132.6 141.9,132.7 142.8,132.8 143.6,132.7 144.5,132.7 145.4,132.8 146.3,132.8 147.2,132.9 148.1,132.7 149,132.2 149.9,132.3 150.8,132.2 151.7,133 152.6,132.4 153.5,132.6 154.4,132.3 155.3,132.3 156.2,132.1 157.1,132.4 158,132.6 158.9,132.8 159.8,132.4 160.7,132.4 161.6,132.2 162.5,132.3 163.4,132.4 164.3,132.3 165.2,132.7 166.1,132.7 167,133.2 167.9,132.9 168.8,132.9 169.7,132.7 170.6,132.8 171.5,132.8 172.4,133.1 173.3,133 174.2,132.8 175.1,132.6 176,132.8 176.9,133 177.8,132.5 178.7,132.3 179.6,132.1 180.5,132.5 181.4,132.6 182.3,132.9 183.2,132.5 184.1,132.8 185,132.5 185.9,132.8 186.8,132.5 187.7,132.9 188.6,133.2 189.5,132.9 190.4,132.7 191.3,132.3 192.2,132.4 193.1,132.1 194,132.1 194.9,132.5 195.8,132.7 196.7,132.8 197.6,132.8 198.5,132.3 199.4,132.6 200.3,132.3 201.2,132.9 202.1,132.7 202.9,132.8 203.8,132.7 204.7,133 205.6,132.6 206.5,132.9 207.4,132.5 208.3,132.7 209.2,132.3 210.1,132.6 211,132.4 211.9,132.3 212.8,132.1 213.7,132.2 214.6,132.5 215.5,132.4 216.4,132.6 217.3,132.4 218.2,132.5 219.1,132.6 220,133.3 220.9,133.4 221.8,133.2 222.7,132.3 223.6,132.3 224.5,132.4 225.4,132.9 226.3,132.9 227.2,133 228.1,132.9 229,132.9 229.9,132.6 230.8,132.3 231.7,132.5 232.6,132.7" fill="none" stroke="#37AD6B" stroke-width="0.7" stroke-linejoin="round" marker-start="url(#m3)" marker-mid="url(#m3)" marker-end="url(#m3)"/>
<rect x="30.5" y="8.5" width="224.4" height="180.5" fill="none" stroke="#595959" stroke-width="1.4"/>
<path d="M52.9 189v-3M52.9 8.5v3M75.4 189v-2M75.4 8.5v2M97.8 189v-3M97.8 8.5v3M120.3 189v-2M120.3 8.5v2M142.8 189v-3M142.8 8.5v3M165.2 189v-2M165.2 8.5v2M187.7 189v-3M187.7 8.5v3M210.1 189v-2M210.1 8.5v2M232.6 189v-3M232.6 8.5v3M30.5 170.5h3M254.9 170.5h-3M30.5 152.4h2M254.9 152.4h-2M30.5 134.4h3M254.9 134.4h-3M30.5 116.3h2M254.9 116.3h-2M30.5 98.3h3M254.9 98.3h-3M30.5 80.2h2M254.9 80.2h-2M30.5 62.2h3M254.9 62.2h-3M30.5 44.2h2M254.9 44.2h-2M30.5 26.1h3M254.9 26.1h-3" stroke="#4a4a4a" stroke-width="1" fill="none"/>
<text x="26.4" y="173.1" text-anchor="end" font-size="8" font-weight="bold" class="b" textLength="4" lengthAdjust="spacingAndGlyphs">0</text>
<text x="26.4" y="137" text-anchor="end" font-size="8" font-weight="bold" class="b" textLength="8" lengthAdjust="spacingAndGlyphs">50</text>
<text x="26.4" y="100.9" text-anchor="end" font-size="8" font-weight="bold" class="b" textLength="12" lengthAdjust="spacingAndGlyphs">100</text>
<text x="26.4" y="64.8" text-anchor="end" font-size="8" font-weight="bold" class="b" textLength="12" lengthAdjust="spacingAndGlyphs">150</text>
<text x="26.4" y="28.7" text-anchor="end" font-size="8" font-weight="bold" class="b" textLength="12" lengthAdjust="spacingAndGlyphs">200</text>
<text x="52.9" y="199.6" text-anchor="middle" font-size="8" font-weight="bold" class="b" textLength="4" lengthAdjust="spacingAndGlyphs">0</text>
<text x="97.8" y="199.6" text-anchor="middle" font-size="8" font-weight="bold" class="b" textLength="4" lengthAdjust="spacingAndGlyphs">5</text>
<text x="142.8" y="199.6" text-anchor="middle" font-size="8" font-weight="bold" class="b" textLength="8" lengthAdjust="spacingAndGlyphs">10</text>
<text x="187.7" y="199.6" text-anchor="middle" font-size="8" font-weight="bold" class="b" textLength="8" lengthAdjust="spacingAndGlyphs">15</text>
<text x="232.6" y="199.6" text-anchor="middle" font-size="8" font-weight="bold" class="b" textLength="8" lengthAdjust="spacingAndGlyphs">20</text>
<text x="91.9" y="208.1" font-size="8.6" font-weight="bold" class="b" textLength="92.2" lengthAdjust="spacingAndGlyphs">Shear displacement (mm)</text>
<text transform="translate(12.8 133.8) rotate(-90)" x="0" y="0" font-size="8.5" font-weight="bold" class="b" textLength="65" lengthAdjust="spacingAndGlyphs">Shear stress (kPa)</text>
<text x="127" y="235" font-size="14.5" class="c" textLength="16" lengthAdjust="spacingAndGlyphs">(<tspan font-weight="bold">a</tspan>)</text>
<path d="M54.4 169.5H67.5" stroke="#515151" stroke-width="1" opacity="0.55"/>
<circle cx="61" cy="169.5" r="1.2" fill="#515151"/>
<text x="69.1" y="171.1" font-size="5.9" font-weight="bold" class="b" textLength="30.2" lengthAdjust="spacingAndGlyphs" xml:space="preserve">100 kPa 0%</text>
<path d="M101.8 169.5H114.5" stroke="#F14040" stroke-width="1" opacity="0.55"/>
<circle cx="108.2" cy="169.5" r="1.2" fill="#F14040"/>
<text x="117.3" y="171.1" font-size="5.9" font-weight="bold" class="b" textLength="30.2" lengthAdjust="spacingAndGlyphs" xml:space="preserve">100 kPa 5%</text>
<path d="M152.9 169.5H166" stroke="#1A6FDF" stroke-width="1" opacity="0.55"/>
<circle cx="159.4" cy="169.5" r="1.2" fill="#1A6FDF"/>
<text x="168" y="171.1" font-size="5.9" font-weight="bold" class="b" textLength="33.2" lengthAdjust="spacingAndGlyphs" xml:space="preserve">100 kPa 10%</text>
<path d="M204.6 169.5H217.6" stroke="#37AD6B" stroke-width="1" opacity="0.55"/>
<circle cx="211.1" cy="169.5" r="1.2" fill="#37AD6B"/>
<text x="220" y="171.1" font-size="5.9" font-weight="bold" class="b" textLength="33.2" lengthAdjust="spacingAndGlyphs" xml:space="preserve">100 kPa 15%</text>
<path d="M54.4 176.5H67.5" stroke="#B177DE" stroke-width="1" opacity="0.55"/>
<circle cx="61" cy="176.5" r="1.2" fill="#B177DE"/>
<text x="69.1" y="178.9" font-size="5.9" font-weight="bold" class="b" textLength="30.2" lengthAdjust="spacingAndGlyphs" xml:space="preserve">200 kPa 0%</text>
<path d="M101.8 176.5H114.5" stroke="#CC9900" stroke-width="1" opacity="0.55"/>
<circle cx="108.2" cy="176.5" r="1.2" fill="#CC9900"/>
<text x="117.3" y="178.9" font-size="5.9" font-weight="bold" class="b" textLength="30.2" lengthAdjust="spacingAndGlyphs" xml:space="preserve">200 kPa 5%</text>
<path d="M152.9 176.5H166" stroke="#00CBCC" stroke-width="1" opacity="0.55"/>
<circle cx="159.4" cy="176.5" r="1.2" fill="#00CBCC"/>
<text x="168" y="178.9" font-size="5.9" font-weight="bold" class="b" textLength="33.2" lengthAdjust="spacingAndGlyphs" xml:space="preserve">200 kPa 10%</text>
<path d="M204.6 176.5H217.6" stroke="#7D4E4E" stroke-width="1" opacity="0.55"/>
<circle cx="211.1" cy="176.5" r="1.2" fill="#7D4E4E"/>
<text x="220" y="178.9" font-size="5.9" font-weight="bold" class="b" textLength="33.2" lengthAdjust="spacingAndGlyphs" xml:space="preserve">200 kPa 15%</text>
<path d="M54.4 184.5H67.5" stroke="#8E8E00" stroke-width="1" opacity="0.55"/>
<circle cx="61" cy="184.5" r="1.2" fill="#8E8E00"/>
<text x="69.1" y="186.2" font-size="5.9" font-weight="bold" class="b" textLength="30.2" lengthAdjust="spacingAndGlyphs" xml:space="preserve">300 kPa 0%</text>
<path d="M101.8 184.5H114.5" stroke="#FB6501" stroke-width="1" opacity="0.55"/>
<circle cx="108.2" cy="184.5" r="1.2" fill="#FB6501"/>
<text x="117.3" y="186.2" font-size="5.9" font-weight="bold" class="b" textLength="30.2" lengthAdjust="spacingAndGlyphs" xml:space="preserve">300 kPa 5%</text>
<path d="M152.9 184.5H166" stroke="#6699CC" stroke-width="1" opacity="0.55"/>
<circle cx="159.4" cy="184.5" r="1.2" fill="#6699CC"/>
<text x="168" y="186.2" font-size="5.9" font-weight="bold" class="b" textLength="33.2" lengthAdjust="spacingAndGlyphs" xml:space="preserve">300 kPa 10%</text>
<path d="M204.6 184.5H217.6" stroke="#6FB802" stroke-width="1" opacity="0.55"/>
<text x="220" y="186.2" font-size="5.9" font-weight="bold" class="b" textLength="33.2" lengthAdjust="spacingAndGlyphs" xml:space="preserve">300 kPa 15%</text>
<path d="M312.5 157.2H540.4M312.5 123.8H540.4M312.5 90.4H540.4M312.5 57.1H540.4M312.5 23.8H540.4" stroke="#d8d8d8" stroke-width="0.8" stroke-dasharray="3 2" fill="none"/>
<polyline points="312.5,190.5 313.5,186.1 314.5,181.9 315.5,177.6 316.6,173.3 317.6,168.9 318.6,164.9 319.6,161 320.6,157.1 321.6,153.1 322.6,149.2 323.7,145.2 324.7,141.7 325.7,137.7 326.7,133.9 327.7,130 328.7,126.7 329.7,123.4 330.8,120.7 331.8,117.6 332.8,114.8 333.8,112 334.8,109.6 335.8,107.4 336.8,105 337.9,102.5 338.9,100.4 339.9,98.9 340.9,97.6 341.9,95.1 342.9,92.9 343.9,90.6 344.9,88.9 346,87.3 347,85.9 348,84.6 349,82.9 350,81.6 351,80.1 352,78.5 353.1,76.2 354.1,74.5 355.1,73 356.1,71.8 357.1,69.9 358.1,68.3 359.1,66.7 360.2,66 361.2,64.6 362.2,63.6 363.2,62.5 364.2,61.7 365.2,60.7 366.2,59.6 367.3,58.7 368.3,57.7 369.3,57 370.3,56.6 371.3,56.6 372.3,56 373.3,55.4 374.4,54.8 375.4,54.4 376.4,53.7 377.4,53.4 378.4,53.2 379.4,53.3 380.4,52.4 381.5,51.6 382.5,50.4 383.5,50.2 384.5,50 385.5,49.8 386.5,49.4 387.5,49.1 388.6,49 389.6,48.3 390.6,47.6 391.6,47.1 392.6,47.2 393.6,47.1 394.6,46.7 395.6,46.3 396.7,46.1 397.7,46 398.7,45.9 399.7,45.4 400.7,44.9 401.7,44.6 402.7,44.1 403.8,44.3 404.8,43.8 405.8,44 406.8,43.7 407.8,43.5 408.8,43.1 409.8,43 410.9,42.9 411.9,42.7 412.9,42.6 413.9,42.3 414.9,41.8 415.9,41 416.9,40.6 418,39.9 419,39.8 420,39.7 421,39.6 422,39.6 423,39.1 424,39.4 425.1,38.9 426.1,39.2 427.1,38.6 428.1,38.5 429.1,38.1 430.1,37.7 431.1,37.3 432.2,36.9 433.2,37.1 434.2,37.1 435.2,36.9 436.2,36.4 437.2,36 438.2,35.9 439.2,36 440.3,36 441.3,36 442.3,35.9 443.3,35.6 444.3,35.1 445.3,34.6 446.3,34.6 447.4,34.5 448.4,34.8 449.4,34.1 450.4,34.1 451.4,33.8 452.4,34.3 453.4,34.3 454.5,34.3 455.5,34.1 456.5,33.7 457.5,34 458.5,33.7 459.5,33.9 460.5,33.2 461.6,33.4 462.6,32.9 463.6,33.5 464.6,33.4 465.6,33.8 466.6,33.6 467.6,33.7 468.7,33.6 469.7,33.4 470.7,33.3 471.7,33.1 472.7,33.2 473.7,33.6 474.7,33.9 475.8,33.9 476.8,34.1 477.8,33.8 478.8,33.8 479.8,33.4 480.8,33.4 481.8,33.2 482.9,33.1 483.9,33.5 484.9,33.6 485.9,33.6 486.9,33.6 487.9,33.4 488.9,33.4 490,33.7 491,33.9 492,34.2 493,33.6 494,33.5 495,33.5 496,33.9 497,34.1 498.1,34 499.1,33.5 500.1,33.4 501.1,33.5 502.1,33.7 503.1,34.3 504.1,34.2 505.2,34.2 506.2,33.9 507.2,34.1 508.2,34.2 509.2,33.9 510.2,33.8 511.2,34.1 512.3,34.3 513.3,34.8 514.3,34.5 515.3,34.9" fill="none" stroke="#8E8E00" stroke-width="0.7" stroke-linejoin="round" marker-start="url(#m8)" marker-mid="url(#m8)" marker-end="url(#m8)"/>
<polyline points="312.5,190.5 313.5,183.5 314.5,176.7 315.5,170.1 316.6,163.8 317.6,158 318.6,151.9 319.6,145.5 320.6,139.2 321.6,133.4 322.6,128.4 323.7,123.4 324.7,118.9 325.7,114.8 326.7,111.4 327.7,107.7 328.7,104.1 329.7,101 330.8,97.9 331.8,95.4 332.8,92.8 333.8,91.4 334.8,89.3 335.8,87.1 336.8,84.9 337.9,83.7 338.9,82 339.9,80.5 340.9,79 341.9,77.4 342.9,75.8 343.9,74.4 344.9,74.1 346,73.5 347,73.2 348,72.3 349,71.7 350,70.7 351,70.3 352,69.3 353.1,68.3 354.1,67.2 355.1,66.4 356.1,65.9 357.1,65.4 358.1,65.3 359.1,64.5 360.2,63.4 361.2,62.5 362.2,61.7 363.2,61.5 364.2,61 365.2,60.7 366.2,60.2 367.3,59.3 368.3,58.5 369.3,58 370.3,58.1 371.3,57.8 372.3,57.6 373.3,56.9 374.4,56.8 375.4,56.2 376.4,56.1 377.4,55.6 378.4,55.4 379.4,55.2 380.4,54.9 381.5,54.5 382.5,53.9 383.5,53.4 384.5,52.6 385.5,52.1 386.5,51.9 387.5,51.8 388.6,51.8 389.6,51.2 390.6,51 391.6,50.9 392.6,50.8 393.6,50.6 394.6,50.6 395.6,50.8 396.7,50.8 397.7,50.5 398.7,50.4 399.7,50.3 400.7,49.6 401.7,49.2 402.7,48.3 403.8,48.3 404.8,47.9 405.8,48.2 406.8,47.9 407.8,48.2 408.8,48.3 409.8,48.3 410.9,47.6 411.9,46.6 412.9,46 413.9,45.8 414.9,45.9 415.9,45.4 416.9,44.9 418,44.5 419,44.4 420,44.5 421,43.8 422,43.4 423,42.9 424,42.8 425.1,42.5 426.1,42.3 427.1,42.4 428.1,42.5 429.1,42.6 430.1,42.1 431.1,41.2 432.2,41.1 433.2,41 434.2,41.2 435.2,40.9 436.2,40.7 437.2,40.9 438.2,40.3 439.2,40.4 440.3,40.1 441.3,40.1 442.3,40 443.3,40.3 444.3,40.6 445.3,40.3 446.3,40 447.4,39.8 448.4,40.2 449.4,40.2 450.4,40.1 451.4,39.8 452.4,39.5 453.4,39.7 454.5,39.9 455.5,40.6 456.5,40.3 457.5,40.1 458.5,39.6 459.5,39.8 460.5,39.4 461.6,39.4 462.6,39.6 463.6,39.8 464.6,39.9 465.6,40.1 466.6,39.8 467.6,39.8 468.7,39.4 469.7,39.7 470.7,39.9 471.7,40.3 472.7,40.3 473.7,40.5 474.7,40.3 475.8,40.4 476.8,40.2 477.8,40 478.8,40.2 479.8,40.1 480.8,40.8 481.8,40.9 482.9,41.2 483.9,40.8 484.9,40.3 485.9,40.6 486.9,40.7 487.9,40.8 488.9,40.2 490,40.3 491,40.2 492,40.7 493,40.8 494,41 495,40.7 496,40.9 497,41 498.1,41.1 499.1,40.6 500.1,40.4 501.1,40.5 502.1,41 503.1,40.9 504.1,40.9 505.2,40.5 506.2,40.7 507.2,41.1 508.2,41.6 509.2,42 510.2,42.1 511.2,41.8 512.3,41.5 513.3,41.6 514.3,41.5 515.3,41.8" fill="none" stroke="#FB6501" stroke-width="0.7" stroke-linejoin="round" marker-start="url(#m9)" marker-mid="url(#m9)" marker-end="url(#m9)"/>
<polyline points="312.5,190.5 313.5,180.9 314.5,171.9 315.5,163.8 316.6,156.8 317.6,150 318.6,143.4 319.6,137.3 320.6,131.6 321.6,126.3 322.6,121.1 323.7,117 324.7,113.2 325.7,109.6 326.7,106.2 327.7,102.7 328.7,99.8 329.7,96.9 330.8,94.5 331.8,91.8 332.8,89.6 333.8,87.6 334.8,85.4 335.8,83.3 336.8,81.1 337.9,79.4 338.9,77.2 339.9,76 340.9,74.6 341.9,74 342.9,72.8 343.9,71.4 344.9,70.5 346,69.1 347,68.3 348,67.5 349,66.8 350,66.5 351,65.1 352,64.8 353.1,64.3 354.1,64.7 355.1,64.4 356.1,63.9 357.1,63.3 358.1,62.8 359.1,62.5 360.2,61.9 361.2,61 362.2,60.9 363.2,60.6 364.2,60.7 365.2,60.3 366.2,60.2 367.3,59.8 368.3,59.1 369.3,58.6 370.3,58.3 371.3,58 372.3,57.6 373.3,57.3 374.4,57.1 375.4,57 376.4,56.6 377.4,56.3 378.4,55.9 379.4,56 380.4,55.6 381.5,55.2 382.5,54.1 383.5,54.2 384.5,53.8 385.5,54.3 386.5,53.8 387.5,53.6 388.6,53.4 389.6,53.2 390.6,53.1 391.6,52.7 392.6,52.3 393.6,51.8 394.6,51.4 395.6,51.2 396.7,51.3 397.7,51.4 398.7,51.4 399.7,51.2 400.7,50.6 401.7,50.2 402.7,50.2 403.8,50 404.8,49.9 405.8,49.6 406.8,49.6 407.8,49.1 408.8,49.3 409.8,49.3 410.9,49.2 411.9,48.6 412.9,48.4 413.9,48.4 414.9,47.9 415.9,47.6 416.9,47.2 418,47.2 419,47.1 420,47 421,47.1 422,47 423,47.2 424,46.9 425.1,46.8 426.1,46.6 427.1,46.9 428.1,46.4 429.1,46.1 430.1,45.9 431.1,46.4 432.2,46.8 433.2,46.7 434.2,46.5 435.2,46.5 436.2,46.3 437.2,46.2 438.2,46.1 439.2,46.4 440.3,46.6 441.3,46.4 442.3,46.3 443.3,46.5 444.3,46.2 445.3,46.1 446.3,45.5 447.4,45.5 448.4,45.6 449.4,45.8 450.4,45.9 451.4,45.7 452.4,45.8 453.4,46 454.5,46.1 455.5,46.3 456.5,46.2 457.5,46.6 458.5,46.4 459.5,46.5 460.5,46.2 461.6,46.2 462.6,46 463.6,45.5 464.6,45.4 465.6,45.7 466.6,46.1 467.6,46.2 468.7,45.8 469.7,46 470.7,46 471.7,46.2 472.7,46.2 473.7,46.4 474.7,46.4 475.8,46.3 476.8,45.7 477.8,45.6 478.8,45.6 479.8,45.8 480.8,45.6 481.8,45.2 482.9,45.2 483.9,45.3 484.9,45.3 485.9,45.1 486.9,45.2 487.9,45.5 488.9,46.1 490,46.1 491,46.3 492,46 493,46 494,45.8 495,45.8 496,45.6 497,45.5 498.1,45.6 499.1,46 500.1,45.8 501.1,45.4 502.1,45.2 503.1,45.3 504.1,45.9 505.2,46.1 506.2,46.3 507.2,45.7 508.2,45.6 509.2,45.7 510.2,45.7 511.2,45.9 512.3,45.6 513.3,45.8 514.3,45.4 515.3,45.6" fill="none" stroke="#6699CC" stroke-width="0.7" stroke-linejoin="round" marker-start="url(#m10)" marker-mid="url(#m10)" marker-end="url(#m10)"/>
<polyline points="312.5,190.5 313.5,186.1 314.5,181.8 315.5,177.6 316.6,173.4 317.6,169.4 318.6,165.2 319.6,161 320.6,157.1 321.6,153.6 322.6,149.7 323.7,145.3 324.7,141.5 325.7,137.8 326.7,134 327.7,130 328.7,126.5 329.7,123.6 330.8,120.3 331.8,117.5 332.8,114.1 333.8,111.3 334.8,108.9 335.8,107.1 336.8,105.2 337.9,102.9 338.9,100.6 339.9,98.9 340.9,96.6 341.9,94.6 342.9,92.8 343.9,91.4 344.9,89.9 346,87.9 347,86.3 348,84.8 349,83.2 350,81.7 351,79.8 352,78.1 353.1,76.5 354.1,75.2 355.1,73.9 356.1,72.2 357.1,70.8 358.1,69.6 359.1,68.7 360.2,67.6 361.2,66.5 362.2,65.8 363.2,65.1 364.2,64.4 365.2,63.7 366.2,63 367.3,62.5 368.3,61.9 369.3,61.6 370.3,61.4 371.3,60.7 372.3,60.1 373.3,59.9 374.4,60.3 375.4,60.1 376.4,59.7 377.4,59.6 378.4,59.8 379.4,60.5 380.4,60.4 381.5,60.2 382.5,59.8 383.5,59.4 384.5,58.7 385.5,57.4 386.5,56.7 387.5,56.2 388.6,55.6 389.6,55.2 390.6,55.3 391.6,55.5 392.6,55.3 393.6,54.7 394.6,54.5 395.6,54.5 396.7,54.1 397.7,54.2 398.7,53.8 399.7,54.1 400.7,53.7 401.7,53.7 402.7,53.6 403.8,53.6 404.8,53.8 405.8,53.8 406.8,53.7 407.8,53.3 408.8,53.1 409.8,53 410.9,52.5 411.9,52 412.9,52.2 413.9,52.3 414.9,52.5 415.9,52.4 416.9,52.2 418,52 419,51.4 420,51.5 421,51 422,50.6 423,50.3 424,50.2 425.1,50.4 426.1,50.4 427.1,50.6 428.1,50.6 429.1,50.7 430.1,50.5 431.1,50.3 432.2,50.1 433.2,50 434.2,49.6 435.2,50.1 436.2,50.3 437.2,51 438.2,50.6 439.2,50.9 440.3,50.8 441.3,50.7 442.3,50.6 443.3,50.7 444.3,50.7 445.3,51.1 446.3,50.8 447.4,50.8 448.4,50.5 449.4,50.6 450.4,50.7 451.4,51 452.4,50.9 453.4,51.1 454.5,50.7 455.5,50.8 456.5,50.2 457.5,50 458.5,50 459.5,50.4 460.5,50.7 461.6,50.5 462.6,50 463.6,49.9 464.6,50.2 465.6,50.4 466.6,50.6 467.6,50.5 468.7,50.8 469.7,50.6 470.7,50.5 471.7,50.3 472.7,50.2 473.7,50.1 474.7,50.8 475.8,51.4 476.8,51.5 477.8,51.1 478.8,50.3 479.8,50.4 480.8,50.4 481.8,50.7 482.9,50.5 483.9,50.5 484.9,50.6 485.9,51.1 486.9,51.2 487.9,51.1 488.9,51.2 490,50.8 491,51 492,50.5 493,50.6 494,50.6 495,51.2 496,51.6 497,51.9 498.1,51.3 499.1,51.3 500.1,51.4 501.1,51.7 502.1,51.2 503.1,51.4 504.1,51.6 505.2,51.8 506.2,51.9 507.2,51.6 508.2,51.9 509.2,51.8 510.2,52 511.2,52.1 512.3,51.8 513.3,51.7 514.3,51.2 515.3,51.3" fill="none" stroke="#6FB802" stroke-width="1.2" stroke-linejoin="round"/>
<polyline points="312.5,190.5 313.5,183.1 314.5,176 315.5,169.2 316.6,163 317.6,157.2 318.6,152 319.6,146.4 320.6,141.4 321.6,136.3 322.6,131.7 323.7,127.6 324.7,124 325.7,120.9 326.7,118.2 327.7,115.9 328.7,113.6 329.7,111.6 330.8,109.9 331.8,108.7 332.8,107.2 333.8,106.2 334.8,104.5 335.8,103.5 336.8,101.6 337.9,100.1 338.9,98.9 339.9,98 340.9,97.6 341.9,96.9 342.9,96.7 343.9,96.1 344.9,95.2 346,94.5 347,94.4 348,94.5 349,94.2 350,93.2 351,92.5 352,92.1 353.1,91.8 354.1,91.5 355.1,91.3 356.1,91.2 357.1,91.2 358.1,90.8 359.1,90.4 360.2,89.5 361.2,89.5 362.2,89.5 363.2,89.2 364.2,88.6 365.2,87.9 366.2,88 367.3,87.8 368.3,87.9 369.3,87.4 370.3,87.3 371.3,86.9 372.3,86.5 373.3,86 374.4,86.3 375.4,86.1 376.4,86 377.4,85.6 378.4,85.8 379.4,85.7 380.4,85.2 381.5,85 382.5,85.1 383.5,85 384.5,84.8 385.5,83.8 386.5,84 387.5,83.4 388.6,83.4 389.6,82.9 390.6,83 391.6,83.2 392.6,82.9 393.6,83.3 394.6,83.1 395.6,83.4 396.7,83.4 397.7,83.4 398.7,83.2 399.7,82.6 400.7,82.2 401.7,81.9 402.7,81.9 403.8,82 404.8,82.2 405.8,82 406.8,81.9 407.8,81.5 408.8,81.7 409.8,81.9 410.9,81.9 411.9,81.5 412.9,80.7 413.9,80.3 414.9,80 415.9,80.1 416.9,80 418,80.3 419,80.2 420,80.1 421,79.5 422,79.5 423,79.9 424,80.1 425.1,80.3 426.1,80 427.1,80.4 428.1,80.4 429.1,80.1 430.1,79.9 431.1,79.8 432.2,80.1 433.2,80.3 434.2,80.1 435.2,80.2 436.2,80.2 437.2,80.5 438.2,80.5 439.2,80.3 440.3,80.3 441.3,80.3 442.3,80.2 443.3,79.6 444.3,79.4 445.3,80.1 446.3,80.6 447.4,80.9 448.4,80.2 449.4,79.8 450.4,79.6 451.4,80.1 452.4,80.4 453.4,80.5 454.5,79.9 455.5,79.7 456.5,80 457.5,79.8 458.5,80.4 459.5,80.2 460.5,80.4 461.6,79.6 462.6,79.7 463.6,80.1 464.6,80.5 465.6,80.5 466.6,79.8 467.6,80.1 468.7,80.1 469.7,80.2 470.7,80 471.7,79.7 472.7,80.2 473.7,79.9 474.7,80.2 475.8,79.8 476.8,80.3 477.8,80.5 478.8,80.7 479.8,80.5 480.8,79.8 481.8,79.7 482.9,79.6 483.9,79.8 484.9,79.3 485.9,79.6 486.9,79.4 487.9,80.1 488.9,79.9 490,80.2 491,80 492,80.3 493,80.4 494,80.7 495,80.7 496,80.3 497,80.1 498.1,80 499.1,80 500.1,80.3 501.1,80.2 502.1,80.3 503.1,79.8 504.1,79.8 505.2,80 506.2,80.6 507.2,80.3 508.2,80.5 509.2,80.4 510.2,80.7 511.2,80.9 512.3,80.9 513.3,80.6 514.3,80.1 515.3,80" fill="none" stroke="#B177DE" stroke-width="0.7" stroke-linejoin="round" marker-start="url(#m4)" marker-mid="url(#m4)" marker-end="url(#m4)"/>
<polyline points="312.5,190.5 313.5,185 314.5,179.6 315.5,174.5 316.6,169.6 317.6,165.1 318.6,160.5 319.6,156.1 320.6,151.7 321.6,147.6 322.6,144 323.7,140.6 324.7,137.9 325.7,135.3 326.7,133 327.7,130.5 328.7,128.2 329.7,126.5 330.8,124.9 331.8,123.3 332.8,121.6 333.8,120.5 334.8,119.6 335.8,117.9 336.8,115.9 337.9,113.9 338.9,112.9 339.9,111.3 340.9,109.7 341.9,108.2 342.9,107.2 343.9,106.6 344.9,105.3 346,104.5 347,102.9 348,102 349,100.8 350,99.9 351,99.5 352,98.8 353.1,98.5 354.1,97.8 355.1,97.6 356.1,97.1 357.1,96.6 358.1,96.2 359.1,96.1 360.2,95.8 361.2,95 362.2,94.6 363.2,94.3 364.2,94.6 365.2,94.6 366.2,94.5 367.3,93.9 368.3,93.3 369.3,92.8 370.3,92.7 371.3,92.4 372.3,91.9 373.3,91.5 374.4,91 375.4,90.4 376.4,89.8 377.4,89.3 378.4,89.1 379.4,88.5 380.4,88.5 381.5,87.9 382.5,87.8 383.5,87.3 384.5,87.1 385.5,87.2 386.5,87.2 387.5,87.2 388.6,86.9 389.6,86.3 390.6,86.2 391.6,85.8 392.6,85.7 393.6,85.6 394.6,85.6 395.6,85.6 396.7,85.7 397.7,85.2 398.7,85.4 399.7,85.2 400.7,85.3 401.7,84.8 402.7,84.4 403.8,84.4 404.8,84.7 405.8,84.9 406.8,85.3 407.8,84.7 408.8,84.3 409.8,84.1 410.9,84.1 411.9,84.4 412.9,84.5 413.9,84.7 414.9,84.9 415.9,84.6 416.9,84.5 418,84 419,83.5 420,83.6 421,83.7 422,83.8 423,83.6 424,84.2 425.1,84.5 426.1,84.4 427.1,84 428.1,83.8 429.1,83.8 430.1,84 431.1,84.1 432.2,84.2 433.2,83.8 434.2,84.1 435.2,84 436.2,84.2 437.2,83.7 438.2,83.7 439.2,83.7 440.3,83.8 441.3,84 442.3,84.1 443.3,84.4 444.3,84.3 445.3,84 446.3,83.7 447.4,83.6 448.4,83.9 449.4,84.1 450.4,83.9 451.4,84.1 452.4,83.6 453.4,83.7 454.5,83 455.5,83.2 456.5,83.3 457.5,83.6 458.5,83.7 459.5,83.6 460.5,83.6 461.6,83.7 462.6,84 463.6,84.2 464.6,84.4 465.6,84.3 466.6,84.2 467.6,83.9 468.7,83.8 469.7,83.9 470.7,83.8 471.7,84.3 472.7,84.3 473.7,84.5 474.7,83.9 475.8,83.7 476.8,83.5 477.8,83.7 478.8,83.6 479.8,84 480.8,84 481.8,84.6 482.9,84.1 483.9,83.8 484.9,83.5 485.9,84 486.9,84.8 487.9,85 488.9,84.8 490,84.4 491,84.4 492,84.6 493,84.7 494,84.3 495,84.1 496,84 497,84.1 498.1,84.2 499.1,84.6 500.1,84.6 501.1,84.7 502.1,84.1 503.1,84.5 504.1,84.4 505.2,84.7 506.2,84.3 507.2,84.2 508.2,84.4 509.2,84.7 510.2,84.8 511.2,84.7 512.3,84.7 513.3,84.8 514.3,84.6 515.3,84.4" fill="none" stroke="#CC9900" stroke-width="0.7" stroke-linejoin="round" marker-start="url(#m5)" marker-mid="url(#m5)" marker-end="url(#m5)"/>
<polyline points="312.5,190.5 313.5,185.5 314.5,180.6 315.5,175.8 316.6,171.4 317.6,167.2 318.6,163.6 319.6,160 320.6,156.7 321.6,153.8 322.6,150.9 323.7,148.1 324.7,145.2 325.7,142.4 326.7,140.6 327.7,138.6 328.7,137.1 329.7,135 330.8,133 331.8,131.5 332.8,129.7 333.8,128.5 334.8,126.9 335.8,125.5 336.8,124.1 337.9,122.7 338.9,121.6 339.9,120.5 340.9,119.6 341.9,118.9 342.9,118 343.9,116.9 344.9,115.5 346,114.8 347,113.7 348,112.8 349,111.9 350,111.5 351,110.7 352,110 353.1,109.2 354.1,108.6 355.1,107.6 356.1,106.7 357.1,106 358.1,105.5 359.1,104.9 360.2,104 361.2,103.5 362.2,102.9 363.2,102.8 364.2,102.1 365.2,101.2 366.2,100.7 367.3,100 368.3,100.3 369.3,99.6 370.3,99 371.3,98.2 372.3,97.7 373.3,97.4 374.4,96.6 375.4,96 376.4,95.5 377.4,95.4 378.4,95.2 379.4,95 380.4,94.4 381.5,94 382.5,93.4 383.5,92.5 384.5,91.7 385.5,91.4 386.5,91 387.5,91.2 388.6,90.9 389.6,90.9 390.6,90.2 391.6,89.8 392.6,89.6 393.6,89.4 394.6,89.3 395.6,89 396.7,89.3 397.7,89.7 398.7,90 399.7,89.5 400.7,89 401.7,88.7 402.7,88.6 403.8,88.5 404.8,88.4 405.8,88.6 406.8,88.4 407.8,88.7 408.8,88.5 409.8,89 410.9,88.6 411.9,88.8 412.9,88.2 413.9,88.5 414.9,88.1 415.9,88.4 416.9,88.2 418,88 419,88 420,87.5 421,87.9 422,88 423,88.7 424,88.3 425.1,88 426.1,87.5 427.1,87.6 428.1,88 429.1,87.6 430.1,87.4 431.1,87.6 432.2,88.1 433.2,88.8 434.2,88.1 435.2,87.6 436.2,86.8 437.2,87.1 438.2,87.7 439.2,88.2 440.3,88.1 441.3,88.1 442.3,87.9 443.3,88.2 444.3,88.1 445.3,87.8 446.3,87.4 447.4,87.3 448.4,87.5 449.4,88 450.4,88.3 451.4,88.5 452.4,88.1 453.4,87.8 454.5,87.4 455.5,87.5 456.5,87.6 457.5,88.1 458.5,88.3 459.5,88.5 460.5,87.8 461.6,87.7 462.6,87.5 463.6,87.5 464.6,87.6 465.6,87.5 466.6,87.9 467.6,87.7 468.7,87.9 469.7,87.8 470.7,87.6 471.7,87.8 472.7,88.4 473.7,88.4 474.7,88.1 475.8,87.5 476.8,87.8 477.8,87.6 478.8,87.4 479.8,87.6 480.8,87.8 481.8,88.3 482.9,88.4 483.9,88.6 484.9,88.4 485.9,88.3 486.9,88.5 487.9,88.4 488.9,88.2 490,87.8 491,88.3 492,88.5 493,88.6 494,88.3 495,88.2 496,87.9 497,87.9 498.1,88.3 499.1,88.8 500.1,88.9 501.1,88.3 502.1,88.3 503.1,88.4 504.1,88.7 505.2,88.8 506.2,88.9 507.2,88.9 508.2,88.6 509.2,88.4 510.2,88.4 511.2,88.6 512.3,89 513.3,88.8 514.3,88.7 515.3,88.5" fill="none" stroke="#00CBCC" stroke-width="0.7" stroke-linejoin="round" marker-start="url(#m6)" marker-mid="url(#m6)" marker-end="url(#m6)"/>
<polyline points="312.5,190.5 313.5,185.7 314.5,181.3 315.5,176.9 316.6,173 317.6,168.9 318.6,165.4 319.6,162 320.6,158.9 321.6,155.7 322.6,152.6 323.7,149.5 324.7,146.7 325.7,144.5 326.7,143 327.7,140.8 328.7,138.9 329.7,137 330.8,135.5 331.8,133.5 332.8,131.6 333.8,130.3 334.8,128.7 335.8,127.1 336.8,125.5 337.9,124.5 338.9,123.8 339.9,122.7 340.9,121.8 341.9,119.8 342.9,118.9 343.9,118 344.9,117.7 346,116.9 347,116 348,114.8 349,113.9 350,112.6 351,111.8 352,110.9 353.1,110.3 354.1,109.5 355.1,109 356.1,108.9 357.1,108.1 358.1,107.4 359.1,106 360.2,105.4 361.2,104.7 362.2,104 363.2,102.7 364.2,101.5 365.2,100.7 366.2,100.3 367.3,99.4 368.3,99 369.3,98.7 370.3,98.8 371.3,98.9 372.3,98.3 373.3,97.7 374.4,97.4 375.4,97.4 376.4,97.4 377.4,97.2 378.4,97.2 379.4,97 380.4,97.1 381.5,97 382.5,97.1 383.5,96.7 384.5,96.6 385.5,96.4 386.5,96.2 387.5,96.3 388.6,96.2 389.6,96.4 390.6,95.8 391.6,96 392.6,95.8 393.6,95.9 394.6,95.5 395.6,95.5 396.7,95.6 397.7,95.4 398.7,95.4 399.7,95.2 400.7,95.2 401.7,95.1 402.7,95 403.8,94.9 404.8,94.5 405.8,94.2 406.8,93.9 407.8,94.1 408.8,94.2 409.8,94.4 410.9,94.3 411.9,93.9 412.9,93.5 413.9,92.9 414.9,93.2 415.9,93.1 416.9,93.6 418,93.3 419,93.3 420,92.8 421,92.9 422,92.7 423,92.7 424,92.7 425.1,92.8 426.1,93 427.1,93.4 428.1,93.3 429.1,92.7 430.1,92.1 431.1,91.7 432.2,92 433.2,92.4 434.2,93.1 435.2,93 436.2,92.8 437.2,92.6 438.2,92.6 439.2,92.9 440.3,92.7 441.3,92.9 442.3,92.7 443.3,92.6 444.3,92.5 445.3,92.3 446.3,92.3 447.4,92.4 448.4,92.2 449.4,92.7 450.4,92.6 451.4,92.9 452.4,93.1 453.4,92.9 454.5,92.8 455.5,92.4 456.5,92.5 457.5,92.7 458.5,92.7 459.5,92.6 460.5,92.7 461.6,92.7 462.6,92.8 463.6,92.6 464.6,92.3 465.6,92.7 466.6,93.3 467.6,93.5 468.7,93.2 469.7,93.1 470.7,93 471.7,92.8 472.7,92.5 473.7,92.3 474.7,92.6 475.8,92.7 476.8,92.6 477.8,92.3 478.8,92.5 479.8,92.9 480.8,92.8 481.8,92.1 482.9,92 483.9,92 484.9,92.7 485.9,92.9 486.9,92.9 487.9,92.8 488.9,92.8 490,93.4 491,92.9 492,93 493,92.5 494,93.1 495,93.3 496,93.1 497,92.8 498.1,92.7 499.1,93 500.1,92.8 501.1,93.1 502.1,93.4 503.1,93.5 504.1,93.1 505.2,92.8 506.2,92.9 507.2,93 508.2,93 509.2,93.1 510.2,93.2 511.2,93.4 512.3,93.2 513.3,93.1 514.3,93.1 515.3,93.1" fill="none" stroke="#7D4E4E" stroke-width="0.7" stroke-linejoin="round" marker-start="url(#m7)" marker-mid="url(#m7)" marker-end="url(#m7)"/>
<polyline points="312.5,190.5 313.5,182.8 314.5,176 315.5,170.5 316.6,165.9 317.6,162.1 318.6,158.5 319.6,156.1 320.6,153.6 321.6,151.5 322.6,150 323.7,148.5 324.7,147.6 325.7,146.5 326.7,146 327.7,145.6 328.7,145 329.7,144.9 330.8,144.4 331.8,144 332.8,143.4 333.8,143.5 334.8,143 335.8,142.6 336.8,142.3 337.9,142.7 338.9,143 339.9,142.7 340.9,142.4 341.9,142.3 342.9,142.8 343.9,142.9 344.9,142.7 346,142.2 347,142.1 348,142.3 349,142.3 350,142.4 351,142.1 352,141.8 353.1,141.7 354.1,141.9 355.1,141.9 356.1,141.7 357.1,141.6 358.1,142.1 359.1,142.4 360.2,142.3 361.2,141.8 362.2,141.8 363.2,141.7 364.2,141.9 365.2,141.8 366.2,141.8 367.3,141.7 368.3,141.6 369.3,141.5 370.3,141.2 371.3,141.3 372.3,141.5 373.3,142 374.4,142.1 375.4,142 376.4,141.8 377.4,141.9 378.4,141.8 379.4,141.8 380.4,141.5 381.5,141.5 382.5,141.2 383.5,141.2 384.5,141.6 385.5,141.6 386.5,141.7 387.5,141.5 388.6,142.1 389.6,141.6 390.6,141.3 391.6,140.8 392.6,140.9 393.6,141 394.6,141.3 395.6,141.2 396.7,141 397.7,140.6 398.7,140.4 399.7,140.2 400.7,140.4 401.7,140.8 402.7,141 403.8,140.8 404.8,140.6 405.8,140.6 406.8,140.4 407.8,140.6 408.8,140.7 409.8,141 410.9,140.9 411.9,141.1 412.9,141.4 413.9,141.4 414.9,141.3 415.9,140.7 416.9,140.3 418,140.1 419,140.2 420,140.6 421,140.8 422,141 423,140.9 424,140.6 425.1,140.5 426.1,140.1 427.1,140.2 428.1,140.6 429.1,140.9 430.1,140.9 431.1,140.6 432.2,140.3 433.2,140.3 434.2,140.4 435.2,140.5 436.2,140.5 437.2,140.5 438.2,140.5 439.2,140.1 440.3,139.9 441.3,139.9 442.3,140 443.3,140.5 444.3,141.1 445.3,141.4 446.3,140.8 447.4,140.2 448.4,140.5 449.4,140.9 450.4,140.8 451.4,140.7 452.4,140.5 453.4,140.8 454.5,140.2 455.5,140.3 456.5,139.5 457.5,139.9 458.5,139.9 459.5,140.8 460.5,140.3 461.6,140.3 462.6,139.8 463.6,140 464.6,140.3 465.6,140.6 466.6,140.8 467.6,140.8 468.7,140.6 469.7,140.2 470.7,139.8 471.7,139.7 472.7,140 473.7,140.1 474.7,140.4 475.8,140.2 476.8,140.1 477.8,140 478.8,140.1 479.8,140.4 480.8,140.2 481.8,140.2 482.9,140.4 483.9,140.6 484.9,140.7 485.9,140.1 486.9,140 487.9,140.1 488.9,140.4 490,140.2 491,139.8 492,140 493,140.1 494,140.1 495,139.8 496,139.8 497,139.4 498.1,139.6 499.1,139.4 500.1,139.8 501.1,140.1 502.1,140.7 503.1,141 504.1,141 505.2,140.6 506.2,140.3 507.2,139.9 508.2,140.3 509.2,140.1 510.2,140.5 511.2,140.1 512.3,140.2 513.3,140 514.3,140.3 515.3,140.2" fill="none" stroke="#515151" stroke-width="0.7" stroke-linejoin="round" marker-start="url(#m0)" marker-mid="url(#m0)" marker-end="url(#m0)"/>
<polyline points="312.5,190.5 313.5,185 314.5,180.1 315.5,175.7 316.6,172 317.6,168.7 318.6,165.5 319.6,162.9 320.6,160.2 321.6,158.3 322.6,156.4 323.7,154.7 324.7,153 325.7,151.8 326.7,150.7 327.7,150.4 328.7,150.2 329.7,149.7 330.8,149.4 331.8,148.9 332.8,148.7 333.8,147.9 334.8,147.7 335.8,147.5 336.8,147.4 337.9,146.9 338.9,146.7 339.9,146.4 340.9,146.2 341.9,145.9 342.9,146.4 343.9,146.2 344.9,146.4 346,145.7 347,145.5 348,145.1 349,145.1 350,145.1 351,145 352,144.9 353.1,144.8 354.1,144.8 355.1,145 356.1,144.6 357.1,144.4 358.1,144.2 359.1,144.3 360.2,144.4 361.2,144.4 362.2,144.3 363.2,144 364.2,143.8 365.2,144.1 366.2,144.3 367.3,144.4 368.3,143.9 369.3,144.1 370.3,144.2 371.3,144.3 372.3,144.3 373.3,144.2 374.4,144.2 375.4,143.8 376.4,143.5 377.4,143.2 378.4,143.5 379.4,143.4 380.4,143.5 381.5,143.5 382.5,143.6 383.5,143.8 384.5,143.6 385.5,143.6 386.5,143.1 387.5,143.1 388.6,143.2 389.6,143.4 390.6,143.3 391.6,143 392.6,142.7 393.6,142.9 394.6,143 395.6,142.8 396.7,142.6 397.7,142.3 398.7,142.4 399.7,142.3 400.7,142.4 401.7,142.4 402.7,142.3 403.8,142.4 404.8,142.3 405.8,142.3 406.8,142.3 407.8,142.6 408.8,142.6 409.8,142.2 410.9,141.9 411.9,142.2 412.9,142.3 413.9,141.9 414.9,141.9 415.9,142.5 416.9,142.9 418,142.6 419,141.9 420,141.7 421,141.6 422,141.7 423,141.7 424,141.7 425.1,141.8 426.1,141.9 427.1,141.8 428.1,141.7 429.1,141.7 430.1,141.7 431.1,141.9 432.2,141.8 433.2,142 434.2,142.3 435.2,142.3 436.2,142.1 437.2,141.6 438.2,141.8 439.2,142.1 440.3,142.5 441.3,142.3 442.3,142.1 443.3,142.2 444.3,142.1 445.3,142.1 446.3,141.8 447.4,142 448.4,142 449.4,142.4 450.4,142.2 451.4,142.1 452.4,141.8 453.4,142.1 454.5,141.8 455.5,141.6 456.5,141.7 457.5,141.9 458.5,142.1 459.5,142.2 460.5,142.2 461.6,142.1 462.6,141.5 463.6,141.5 464.6,141.8 465.6,142 466.6,142 467.6,141.6 468.7,141.6 469.7,141.7 470.7,141.8 471.7,142.2 472.7,142 473.7,142.2 474.7,142.2 475.8,142.1 476.8,142.3 477.8,141.7 478.8,141.6 479.8,141.6 480.8,142 481.8,142.3 482.9,142.4 483.9,142 484.9,142 485.9,141.4 486.9,141.9 487.9,141.9 488.9,142 490,142 491,141.9 492,142.3 493,141.9 494,142.3 495,141.9 496,141.6 497,141.3 498.1,141.5 499.1,141.5 500.1,141.6 501.1,141.6 502.1,141.7 503.1,141.5 504.1,141.2 505.2,141.2 506.2,140.9 507.2,141.2 508.2,141.2 509.2,141.7 510.2,141.5 511.2,141.4 512.3,140.8 513.3,141.2 514.3,141.6 515.3,142.1" fill="none" stroke="#F14040" stroke-width="0.7" stroke-linejoin="round" marker-start="url(#m1)" marker-mid="url(#m1)" marker-end="url(#m1)"/>
<polyline points="312.5,190.5 313.5,185.7 314.5,181.2 315.5,177.2 316.6,173.8 317.6,171 318.6,168.3 319.6,165.8 320.6,163.5 321.6,161.1 322.6,159.8 323.7,158.4 324.7,157.5 325.7,156.5 326.7,155.4 327.7,154.6 328.7,153.7 329.7,153.2 330.8,152.6 331.8,152 332.8,151.3 333.8,150.9 334.8,150.6 335.8,150.5 336.8,150.2 337.9,149.6 338.9,149.1 339.9,148.4 340.9,148.1 341.9,147.7 342.9,147.7 343.9,147.7 344.9,147.6 346,147.4 347,147.3 348,147.5 349,146.9 350,147.3 351,146.9 352,147.4 353.1,146.7 354.1,146.9 355.1,146.9 356.1,146.4 357.1,146.3 358.1,146.2 359.1,146.5 360.2,146.3 361.2,146.2 362.2,146.3 363.2,146.6 364.2,146.3 365.2,146.4 366.2,146.6 367.3,146.6 368.3,146.2 369.3,145.6 370.3,145.8 371.3,145.7 372.3,145.9 373.3,146.2 374.4,146.4 375.4,145.9 376.4,145.3 377.4,144.9 378.4,144.8 379.4,144.9 380.4,145.3 381.5,145.3 382.5,145.2 383.5,145.1 384.5,145.6 385.5,145.6 386.5,145.8 387.5,145.3 388.6,145.2 389.6,144.7 390.6,144.4 391.6,144.4 392.6,144.2 393.6,144.7 394.6,144.6 395.6,144.6 396.7,144 397.7,144.2 398.7,144.4 399.7,144.7 400.7,144.4 401.7,144.5 402.7,144.8 403.8,145 404.8,144.8 405.8,144.7 406.8,144 407.8,143.7 408.8,143.8 409.8,144.2 410.9,144.2 411.9,143.5 412.9,143.1 413.9,143.6 414.9,144 415.9,143.9 416.9,143.6 418,143.6 419,143.7 420,143.5 421,143.4 422,143.4 423,143.4 424,143.5 425.1,143.7 426.1,143.8 427.1,143.9 428.1,143.6 429.1,143.9 430.1,143.5 431.1,143.8 432.2,143.4 433.2,143.6 434.2,143.4 435.2,143.8 436.2,143.9 437.2,144 438.2,144.1 439.2,143.8 440.3,143.5 441.3,143 442.3,143.5 443.3,144 444.3,144.6 445.3,144.2 446.3,143.6 447.4,143.7 448.4,143.6 449.4,143.9 450.4,143.7 451.4,143.9 452.4,143.7 453.4,143.6 454.5,143.6 455.5,143.9 456.5,144.1 457.5,144.1 458.5,144.3 459.5,143.9 460.5,144 461.6,143.4 462.6,143.8 463.6,143.4 464.6,143.8 465.6,143.7 466.6,143.9 467.6,143.6 468.7,143.4 469.7,143.5 470.7,143.3 471.7,143.2 472.7,143.4 473.7,143.8 474.7,143.6 475.8,143.3 476.8,143 477.8,143 478.8,143.2 479.8,143.2 480.8,143.8 481.8,143.7 482.9,143.6 483.9,143.8 484.9,143.7 485.9,143.8 486.9,143.3 487.9,143.5 488.9,143.8 490,143.9 491,144 492,143.7 493,143.7 494,143.6 495,143.7 496,144 497,144.4 498.1,144.7 499.1,144.9 500.1,144.3 501.1,144.2 502.1,143.9 503.1,143.9 504.1,143.4 505.2,143.5 506.2,143.6 507.2,143.7 508.2,143.3 509.2,143.2 510.2,143.2 511.2,143.6 512.3,143.7 513.3,144.1 514.3,144.1 515.3,143.9" fill="none" stroke="#1A6FDF" stroke-width="0.7" stroke-linejoin="round" marker-start="url(#m2)" marker-mid="url(#m2)" marker-end="url(#m2)"/>
<polyline points="312.5,190.5 313.5,187.4 314.5,184.6 315.5,182 316.6,179.9 317.6,177.7 318.6,175.9 319.6,174 320.6,172.7 321.6,171.2 322.6,170 323.7,168.8 324.7,167.6 325.7,166.7 326.7,165.7 327.7,165 328.7,164.1 329.7,162.8 330.8,162.1 331.8,161.5 332.8,161.5 333.8,160.8 334.8,160.7 335.8,160.3 336.8,159.9 337.9,159.4 338.9,158.9 339.9,158.4 340.9,157.9 341.9,157.7 342.9,157.8 343.9,157.6 344.9,156.9 346,156.4 347,156.1 348,155.9 349,155.5 350,155.1 351,155 352,155.2 353.1,155.5 354.1,155.4 355.1,155.1 356.1,154.4 357.1,154 358.1,153.9 359.1,153.6 360.2,153.8 361.2,153.7 362.2,153.9 363.2,153.7 364.2,153.4 365.2,153.2 366.2,153 367.3,152.5 368.3,152.5 369.3,152.4 370.3,152.6 371.3,152.1 372.3,151.6 373.3,151.5 374.4,151.5 375.4,151.6 376.4,151.2 377.4,151.2 378.4,151.5 379.4,151.5 380.4,151.5 381.5,150.9 382.5,150.5 383.5,150.2 384.5,149.7 385.5,150.2 386.5,150.1 387.5,150.2 388.6,149.7 389.6,149.7 390.6,149.7 391.6,149.7 392.6,149.5 393.6,149.7 394.6,149.9 395.6,149.7 396.7,149.3 397.7,148.8 398.7,148.7 399.7,148.4 400.7,148.6 401.7,148.4 402.7,148.3 403.8,147.7 404.8,147.7 405.8,147.7 406.8,148.1 407.8,148.2 408.8,148.1 409.8,147.4 410.9,147.1 411.9,147.4 412.9,147.6 413.9,147.4 414.9,146.9 415.9,146.6 416.9,146.8 418,147 419,147 420,146.4 421,146.4 422,146.4 423,146.8 424,147.2 425.1,147.4 426.1,147.4 427.1,147.3 428.1,147 429.1,146.9 430.1,146.5 431.1,146.3 432.2,146.3 433.2,146.5 434.2,147.1 435.2,147.1 436.2,146.9 437.2,146.7 438.2,146.8 439.2,147.1 440.3,146.7 441.3,146.5 442.3,146.1 443.3,146.6 444.3,146.2 445.3,146.6 446.3,146.6 447.4,147 448.4,147 449.4,146.4 450.4,146.5 451.4,146.6 452.4,146.7 453.4,146.4 454.5,146.4 455.5,146.7 456.5,147 457.5,146.9 458.5,146.4 459.5,146.1 460.5,145.9 461.6,145.9 462.6,146.2 463.6,146.2 464.6,146.5 465.6,146.6 466.6,146.5 467.6,146.8 468.7,146.7 469.7,147.1 470.7,147.1 471.7,147.2 472.7,147 473.7,146.6 474.7,146.7 475.8,146.6 476.8,146.6 477.8,146.3 478.8,146.8 479.8,147 480.8,147.2 481.8,146.7 482.9,146.8 483.9,146.8 484.9,147.1 485.9,147.2 486.9,147.3 487.9,146.9 488.9,146.8 490,147.1 491,147.3 492,147.1 493,146.6 494,146.5 495,146.5 496,146.7 497,146.9 498.1,146.8 499.1,146.9 500.1,146.7 501.1,146.5 502.1,146.4 503.1,146.6 504.1,147 505.2,146.8 506.2,146.5 507.2,146.1 508.2,146.1 509.2,146.2 510.2,146.4 511.2,146.8 512.3,146.7 513.3,146.7 514.3,146.1 515.3,146.2" fill="none" stroke="#37AD6B" stroke-width="0.7" stroke-linejoin="round" marker-start="url(#m3)" marker-mid="url(#m3)" marker-end="url(#m3)"/>
<rect x="312.5" y="7.3" width="227.9" height="183.2" fill="none" stroke="#595959" stroke-width="1.4"/>
<path d="M337.9 190.5v-2M337.9 7.3v2M363.2 190.5v-3M363.2 7.3v3M388.6 190.5v-2M388.6 7.3v2M413.9 190.5v-3M413.9 7.3v3M439.2 190.5v-2M439.2 7.3v2M464.6 190.5v-3M464.6 7.3v3M490 190.5v-2M490 7.3v2M515.3 190.5v-3M515.3 7.3v3M312.5 173.8h2M540.4 173.8h-2M312.5 157.2h3M540.4 157.2h-3M312.5 140.5h2M540.4 140.5h-2M312.5 123.8h3M540.4 123.8h-3M312.5 107.1h2M540.4 107.1h-2M312.5 90.4h3M540.4 90.4h-3M312.5 73.8h2M540.4 73.8h-2M312.5 57.1h3M540.4 57.1h-3M312.5 40.4h2M540.4 40.4h-2M312.5 23.8h3M540.4 23.8h-3" stroke="#4a4a4a" stroke-width="1" fill="none"/>
<text x="308.8" y="193.3" text-anchor="end" font-size="8.4" font-weight="bold" class="b" textLength="4.3" lengthAdjust="spacingAndGlyphs">0</text>
<text x="308.8" y="159.9" text-anchor="end" font-size="8.4" font-weight="bold" class="b" textLength="8.6" lengthAdjust="spacingAndGlyphs">50</text>
<text x="308.8" y="126.6" text-anchor="end" font-size="8.4" font-weight="bold" class="b" textLength="12.9" lengthAdjust="spacingAndGlyphs">100</text>
<text x="308.8" y="93.2" text-anchor="end" font-size="8.4" font-weight="bold" class="b" textLength="12.9" lengthAdjust="spacingAndGlyphs">150</text>
<text x="308.8" y="59.9" text-anchor="end" font-size="8.4" font-weight="bold" class="b" textLength="12.9" lengthAdjust="spacingAndGlyphs">200</text>
<text x="308.8" y="26.5" text-anchor="end" font-size="8.4" font-weight="bold" class="b" textLength="12.9" lengthAdjust="spacingAndGlyphs">250</text>
<text x="312.5" y="201.9" text-anchor="middle" font-size="8.4" font-weight="bold" class="b" textLength="4.3" lengthAdjust="spacingAndGlyphs">0</text>
<text x="363.2" y="201.9" text-anchor="middle" font-size="8.4" font-weight="bold" class="b" textLength="4.3" lengthAdjust="spacingAndGlyphs">5</text>
<text x="413.9" y="201.9" text-anchor="middle" font-size="8.4" font-weight="bold" class="b" textLength="8.6" lengthAdjust="spacingAndGlyphs">10</text>
<text x="464.6" y="201.9" text-anchor="middle" font-size="8.4" font-weight="bold" class="b" textLength="8.6" lengthAdjust="spacingAndGlyphs">15</text>
<text x="515.3" y="201.9" text-anchor="middle" font-size="8.4" font-weight="bold" class="b" textLength="8.6" lengthAdjust="spacingAndGlyphs">20</text>
<text x="379.5" y="210.3" font-size="8.8" font-weight="bold" class="b" textLength="94.2" lengthAdjust="spacingAndGlyphs">Shear displacement (mm)</text>
<text transform="translate(292.8 138) rotate(-90)" x="0" y="0" font-size="8.8" font-weight="bold" class="b" textLength="66.4" lengthAdjust="spacingAndGlyphs">Shear stress (kPa)</text>
<text x="407" y="235" font-size="14.5" class="c" textLength="17.1" lengthAdjust="spacingAndGlyphs">(<tspan font-weight="bold">b</tspan>)</text>
<path d="M336.2 167.5H350.4" stroke="#515151" stroke-width="1" opacity="0.8"/>
<circle cx="343.3" cy="167.5" r="1.2" fill="#515151"/>
<text x="351.5" y="169.6" font-size="6.2" font-weight="bold" class="b" textLength="31.3" lengthAdjust="spacingAndGlyphs" xml:space="preserve">100kPa  0%</text>
<path d="M387.5 167.5H401.6" stroke="#F14040" stroke-width="1" opacity="0.8"/>
<circle cx="394.6" cy="167.5" r="1.2" fill="#F14040"/>
<text x="402.5" y="169.6" font-size="6.2" font-weight="bold" class="b" textLength="31.3" lengthAdjust="spacingAndGlyphs" xml:space="preserve">100kPa  5%</text>
<path d="M435.6 167.5H449.7" stroke="#1A6FDF" stroke-width="1" opacity="0.8"/>
<circle cx="442.6" cy="167.5" r="1.2" fill="#1A6FDF"/>
<text x="450.7" y="169.6" font-size="6.2" font-weight="bold" class="b" textLength="34.3" lengthAdjust="spacingAndGlyphs" xml:space="preserve">100kPa  10%</text>
<path d="M488.3 167.5H502.9" stroke="#37AD6B" stroke-width="1" opacity="0.8"/>
<circle cx="495.6" cy="167.5" r="1.2" fill="#37AD6B"/>
<text x="503.8" y="169.6" font-size="6.2" font-weight="bold" class="b" textLength="34.3" lengthAdjust="spacingAndGlyphs" xml:space="preserve">100kPa  15%</text>
<path d="M336.2 175.5H350.4" stroke="#B177DE" stroke-width="1" opacity="0.8"/>
<circle cx="343.3" cy="175.5" r="1.2" fill="#B177DE"/>
<text x="351.5" y="177.5" font-size="6.2" font-weight="bold" class="b" textLength="31.3" lengthAdjust="spacingAndGlyphs" xml:space="preserve">200kPa  0%</text>
<path d="M387.5 175.5H401.6" stroke="#CC9900" stroke-width="1" opacity="0.8"/>
<circle cx="394.6" cy="175.5" r="1.2" fill="#CC9900"/>
<text x="402.5" y="177.5" font-size="6.2" font-weight="bold" class="b" textLength="31.3" lengthAdjust="spacingAndGlyphs" xml:space="preserve">200kPa  5%</text>
<path d="M435.6 175.5H449.7" stroke="#00CBCC" stroke-width="1" opacity="0.8"/>
<circle cx="442.6" cy="175.5" r="1.2" fill="#00CBCC"/>
<text x="450.7" y="177.5" font-size="6.2" font-weight="bold" class="b" textLength="34.3" lengthAdjust="spacingAndGlyphs" xml:space="preserve">200kPa  10%</text>
<path d="M488.3 175.5H502.9" stroke="#7D4E4E" stroke-width="1" opacity="0.8"/>
<circle cx="495.6" cy="175.5" r="1.2" fill="#7D4E4E"/>
<text x="503.8" y="177.5" font-size="6.2" font-weight="bold" class="b" textLength="34.3" lengthAdjust="spacingAndGlyphs" xml:space="preserve">200kPa  15%</text>
<path d="M336.2 182.5H350.4" stroke="#8E8E00" stroke-width="1" opacity="0.8"/>
<circle cx="343.3" cy="182.5" r="1.2" fill="#8E8E00"/>
<text x="351.5" y="185" font-size="6.2" font-weight="bold" class="b" textLength="31.3" lengthAdjust="spacingAndGlyphs" xml:space="preserve">300kPa  0%</text>
<path d="M387.5 182.5H401.6" stroke="#FB6501" stroke-width="1" opacity="0.8"/>
<circle cx="394.6" cy="182.5" r="1.2" fill="#FB6501"/>
<text x="402.5" y="185" font-size="6.2" font-weight="bold" class="b" textLength="31.3" lengthAdjust="spacingAndGlyphs" xml:space="preserve">300kPa  5%</text>
<path d="M435.6 182.5H449.7" stroke="#6699CC" stroke-width="1" opacity="0.8"/>
<circle cx="442.6" cy="182.5" r="1.2" fill="#6699CC"/>
<text x="450.7" y="185" font-size="6.2" font-weight="bold" class="b" textLength="34.3" lengthAdjust="spacingAndGlyphs" xml:space="preserve">300kPa  10%</text>
<path d="M488.3 182.5H502.9" stroke="#6FB802" stroke-width="1" opacity="0.8"/>
<text x="503.8" y="185" font-size="6.2" font-weight="bold" class="b" textLength="34.3" lengthAdjust="spacingAndGlyphs" xml:space="preserve">300kPa  15%</text>
<path d="M38.7 395.9H251.5M38.7 361.8H251.5M38.7 327.7H251.5M38.7 293.6H251.5" stroke="#d6d6d6" stroke-width="0.8" stroke-dasharray="2.5 2" fill="none"/>
<polyline points="38.5,430 42.3,399 46.1,378.1 49.9,367 53.6,360.8 57.4,356 61.2,352.1 65,348.9 68.8,345 72.6,341.5 76.3,338.1 80.1,335.5 83.9,332.9 87.7,330.4 91.5,327.6 95.3,324.7 99,322.1 102.8,319.9 106.6,318.2 110.4,316.5 114.2,314.7 118,312.6 121.7,310.4 125.5,307.8 129.3,305.1 133.1,302.2 136.9,299.9 140.7,297.8 144.5,295.8 148.2,293.9 152,291.9 155.8,290 159.6,287.9 163.4,286 167.2,284.3 170.9,282.9 174.7,281 178.5,279.3 182.3,277.5 186.1,276.2 189.9,275.1 193.6,274.6 197.4,274.6 201.2,274.6 205,274.4 208.8,273.9 212.6,273.6 216.3,273.3 220.1,273 223.9,272.7 227.7,272.4" fill="none" stroke="#1A6FDF" stroke-width="0.9" stroke-linejoin="round" marker-start="url(#n2)" marker-mid="url(#n2)" marker-end="url(#n2)"/>
<polyline points="38.5,430 42.3,399 46.1,377.8 49.9,367 53.6,360.8 57.4,356.1 61.2,352 65,348.7 68.8,345.3 72.6,342 76.3,338.7 80.1,335.4 83.9,333 87.7,330.4 91.5,327.7 95.3,324.6 99,322.2 102.8,320 106.6,317.9 110.4,315.6 114.2,313.3 118,311.5 121.7,309.5 125.5,307.8 129.3,305.6 133.1,303.8 136.9,302.1 140.7,301 144.5,299.7 148.2,298.7 152,297.6 155.8,296.9 159.6,296.3 163.4,295.7 167.2,295.2 170.9,294.4 174.7,293 178.5,291.5 182.3,290.1 186.1,289.8 189.9,290.2 193.6,290.8 197.4,290.6 201.2,289.9 205,288.6 208.8,287.1 212.6,286.1 216.3,286 220.1,286.2 223.9,286.2 227.7,286.2" fill="none" stroke="#CC9900" stroke-width="0.9" stroke-linejoin="round" marker-start="url(#n5)" marker-mid="url(#n5)" marker-end="url(#n5)"/>
<polyline points="38.5,430 42.3,407.3 46.1,390.7 49.9,378.2 53.6,369.2 57.4,363.4 61.2,359.1 65,355.8 68.8,352.9 72.6,350.9 76.3,349 80.1,347.3 83.9,345.3 87.7,344.1 91.5,342.4 95.3,341 99,339.4 102.8,338.1 106.6,336.8 110.4,335.1 114.2,333.3 118,331.5 121.7,330.1 125.5,328.5 129.3,327.3 133.1,325.6 136.9,324.3 140.7,322.9 144.5,322.1 148.2,321.2 152,320.4 155.8,319 159.6,317.9 163.4,316.9 167.2,316.1 170.9,315.2 174.7,314.3 178.5,313.5 182.3,312.6 186.1,311.3 189.9,310.3 193.6,309.8 197.4,310.1 201.2,310.2 205,310.1 208.8,309.9 212.6,309.8 216.3,309.8 220.1,309.9 223.9,309.9 227.7,309.9" fill="none" stroke="#F14040" stroke-width="0.9" stroke-linejoin="round" marker-start="url(#n1)" marker-mid="url(#n1)" marker-end="url(#n1)"/>
<polyline points="38.5,430 42.3,407.4 46.1,390.8 49.9,378.2 53.6,369.5 57.4,363.6 61.2,359.5 65,356.3 68.8,353.5 72.6,351 76.3,348.7 80.1,346.6 83.9,345.3 87.7,343.7 91.5,342.6 95.3,340.9 99,339.4 102.8,337.7 106.6,336.1 110.4,334.6 114.2,333 118,331.7 121.7,330.2 125.5,328.7 129.3,327.2 133.1,325.6 136.9,324.3 140.7,322.9 144.5,322.1 148.2,321.4 152,320.8 155.8,319.9 159.6,319.3 163.4,318.6 167.2,318.1 170.9,317.3 174.7,316.9 178.5,316.3 182.3,316.1 186.1,315.8 189.9,315.7 193.6,315.4 197.4,315 201.2,314.5 205,314.1 208.8,313.8 212.6,313.6 216.3,313.4 220.1,313.3 223.9,313.4 227.7,313.4" fill="none" stroke="#B177DE" stroke-width="0.9" stroke-linejoin="round" marker-start="url(#n4)" marker-mid="url(#n4)" marker-end="url(#n4)"/>
<polyline points="38.5,430 42.3,402.8 46.1,387.3 49.9,382.9 53.6,380 57.4,378.1 61.2,376.6 65,375.3 68.8,374 72.6,372.6 76.3,371.5 80.1,370.3 83.9,369.3 87.7,368.3 91.5,367.3 95.3,366.6 99,365.7 102.8,364.9 106.6,363.6 110.4,362.3 114.2,361.2 118,359.9 121.7,358.6 125.5,357 129.3,355.5 133.1,354.3 136.9,353.2 140.7,352.3 144.5,351.4 148.2,350.4 152,349.7 155.8,348.9 159.6,348 163.4,347.1 167.2,346.2 170.9,345.2 174.7,344.1 178.5,342.8 182.3,341.8 186.1,341 189.9,340.6 193.6,340.1 197.4,339.5 201.2,339.5 205,339.4 208.8,339.7 212.6,339.6 216.3,339.4 220.1,339.5 223.9,339.4 227.7,339.7" fill="none" stroke="#8E8E00" stroke-width="0.9" stroke-linejoin="round" marker-start="url(#n8)" marker-mid="url(#n8)" marker-end="url(#n8)"/>
<polyline points="38.5,430 42.3,411 46.1,403 49.9,399.1 53.6,396.4 57.4,394.8 61.2,393.1 65,391.5 68.8,389.9 72.6,388.3 76.3,386.9 80.1,385.5 83.9,384.2 87.7,382.9 91.5,381.6 95.3,380.5 99,379.6 102.8,378.6 106.6,377.7 110.4,376.9 114.2,375.8 118,374.3 121.7,372.9 125.5,371.4 129.3,370.2 133.1,368.8 136.9,368 140.7,367.2 144.5,366.5 148.2,365.7 152,364.9 155.8,364.4 159.6,363.9 163.4,363.5 167.2,363.3 170.9,362.9 174.7,362.3 178.5,361.8 182.3,361.1 186.1,360.9 189.9,360.3 193.6,360.1 197.4,360.1 201.2,359.9 205,359.7 208.8,359.4 212.6,359.4 216.3,359.3 220.1,359.3 223.9,359.5 227.7,359.7" fill="none" stroke="#7D4E4E" stroke-width="0.9" stroke-linejoin="round" marker-start="url(#n7)" marker-mid="url(#n7)" marker-end="url(#n7)"/>
<polyline points="38.5,430 42.3,425.9 46.1,419.4 49.9,411.2 53.6,401.1 57.4,395.3 61.2,393.5 65,392 68.8,390.1 72.6,388.2 76.3,386.4 80.1,384.8 83.9,383.3 87.7,382 91.5,380.9 95.3,380.2 99,379.6 102.8,379 106.6,378.4 110.4,377.8 114.2,377.2 118,376.6 121.7,375.8 125.5,375.3 129.3,375 133.1,374.9 136.9,374.5 140.7,374.1 144.5,373.7 148.2,373.5 152,373.4 155.8,373.1 159.6,372.8 163.4,372 167.2,371.9 170.9,371.8 174.7,371.6 178.5,371.4 182.3,371.1 186.1,370.9 189.9,370.6 193.6,370.4 197.4,370.4 201.2,370.2 205,370.1 208.8,369.9 212.6,369.8 216.3,369.4 220.1,369.4 223.9,369.5 227.7,369.7" fill="none" stroke="#515151" stroke-width="0.9" stroke-linejoin="round" marker-start="url(#n0)" marker-mid="url(#n0)" marker-end="url(#n0)"/>
<polyline points="38.5,430 42.3,418.8 46.1,409.5 49.9,403.6 53.6,399.9 57.4,397.2 61.2,395.5 65,393.6 68.8,391.8 72.6,390.3 76.3,389.1 80.1,388.4 83.9,387.4 87.7,386.5 91.5,385.7 95.3,385 99,384.3 102.8,383.4 106.6,383 110.4,382.2 114.2,381.5 118,380.8 121.7,380.4 125.5,379.8 129.3,379.1 133.1,378.6 136.9,378 140.7,377.6 144.5,377.1 148.2,376.8 152,376.5 155.8,376.6 159.6,376.3 163.4,376 167.2,375.5 170.9,375.3 174.7,375.3 178.5,375.3 182.3,375.5 186.1,375.3 189.9,375.2 193.6,375.2 197.4,375.5 201.2,375.5 205,375.3 208.8,375.1 212.6,375.2 216.3,375.2 220.1,375.1 223.9,374.9 227.7,375" fill="none" stroke="#37AD6B" stroke-width="0.9" stroke-linejoin="round" marker-start="url(#n3)" marker-mid="url(#n3)" marker-end="url(#n3)"/>
<polyline points="38.5,430 42.3,411.3 46.1,407.9 49.9,406.1 53.6,404.4 57.4,403.5 61.2,402.4 65,402.2 68.8,401.7 72.6,401.4 76.3,400.7 80.1,400.4 83.9,400.1 87.7,399.7 91.5,399.5 95.3,399.2 99,398.7 102.8,398 106.6,397.5 110.4,397.1 114.2,396.7 118,396.1 121.7,395.7 125.5,395.4 129.3,395.1 133.1,394.7 136.9,394.3 140.7,394.1 144.5,393.6 148.2,393.5 152,393.2 155.8,393.3 159.6,392.9 163.4,393 167.2,392.8 170.9,392.6 174.7,392.3 178.5,392.1 182.3,392 186.1,391.8 189.9,391.5 193.6,391.3 197.4,391.1 201.2,391 205,390.9 208.8,390.9 212.6,390.6 216.3,390.3 220.1,389.9 223.9,389.9 227.7,389.9" fill="none" stroke="#00CBCC" stroke-width="0.9" stroke-linejoin="round" marker-start="url(#n6)" marker-mid="url(#n6)" marker-end="url(#n6)"/>
<polyline points="38.5,430 42.3,423.2 46.1,417.5 49.9,415 53.6,413.6 57.4,412.6 61.2,411.8 65,410.7 68.8,409.7 72.6,409 76.3,408.5 80.1,408.4 83.9,407.8 87.7,407.2 91.5,406.6 95.3,406.1 99,405.8 102.8,405.3 106.6,405 110.4,404.6 114.2,404.1 118,403.7 121.7,403.4 125.5,403.3 129.3,403.1 133.1,402.8 136.9,402.6 140.7,402.5 144.5,402.4 148.2,402.2 152,401.9 155.8,401.7 159.6,401.4 163.4,401.2 167.2,401.1 170.9,401.1 174.7,401.1 178.5,401.1 182.3,401.3 186.1,401.4 189.9,401.5 193.6,401.1 197.4,401.2 201.2,401.2 205,401.3 208.8,401.2 212.6,401.2 216.3,401.3 220.1,401.5 223.9,401.6 227.7,401.6" fill="none" stroke="#6FB802" stroke-width="1.0" stroke-linejoin="round"/>
<polyline points="38.5,430 40.4,426.8 42.3,424.1 44.2,422.3 46.1,420.8 48,419.7 49.9,418.4 51.7,417.6 53.6,416.8 55.5,416.2 57.4,415.4 59.3,414.8 61.2,414.4 63.1,414.1 65,413.6 66.9,413.1 68.8,412.6 70.7,412.3 72.6,412.1 74.4,412 76.3,411.7 78.2,411.5 80.1,411.1 82,410.8 83.9,410.6 85.8,410.3 87.7,409.9 89.6,409.5 91.5,409.4 93.4,409.4 95.3,409.1 97.2,409.2 99,408.9 100.9,408.9 102.8,408.4 104.7,408.5 106.6,408.3 108.5,408.4 110.4,408.2 112.3,408.1 114.2,408 116.1,408.1 118,408.1 119.9,407.8 121.7,407.5 123.6,407.2 125.5,407.2 127.4,407.2 129.3,407.2 131.2,407 133.1,406.7 135,406.8 136.9,407.3 138.8,407.5 140.7,407 142.6,406.6 144.5,406.4 146.3,406.3 148.2,406.3 150.1,406.1 152,406 153.9,405.8 155.8,405.6 157.7,405.7 159.6,405.6 161.5,405.6 163.4,405.3 165.3,405 167.2,405 169,405.3 170.9,405.6 172.8,405.4 174.7,405 176.6,404.8 178.5,405 180.4,405.2 182.3,405.1 184.2,405.2 186.1,405 188,405.1 189.9,404.9 191.8,405 193.6,404.9 195.5,404.9 197.4,405.1 199.3,405.2 201.2,405.3 203.1,405.2 205,405.1 206.9,405.1 208.8,405.3 210.7,405.6 212.6,405.6 214.5,405.5 216.3,405.5 218.2,405.4 220.1,405.5 222,405.5 223.9,405.9 225.8,406 227.7,406" fill="none" stroke="#6699CC" stroke-width="0.9" stroke-linejoin="round" marker-start="url(#n10)" marker-mid="url(#n10)" marker-end="url(#n10)"/>
<polyline points="38.5,430 39.6,427.8 40.8,425.9 41.9,424.6 43,423.8 44.2,423.1 45.3,422.5 46.4,422.1 47.6,422 48.7,421.8 49.8,421.5 51,421.5 52.1,421.2 53.2,421 54.4,420.5 55.5,420.4 56.6,420.1 57.8,419.9 58.9,419.8 60,419.7 61.2,419.3 62.3,419.1 63.4,418.8 64.6,418.8 65.7,418.6 66.8,418.5 68,418.4 69.1,418.1 70.2,418.2 71.4,417.8 72.5,417.9 73.6,417.8 74.8,417.6 75.9,417.2 77,417 78.2,417 79.3,416.7 80.4,416.7 81.6,416.6 82.7,416.5 83.8,416.2 85,416 86.1,415.8 87.2,415.6 88.3,415.3 89.5,415 90.6,414.7 91.7,414.4 92.9,414.5 94,414.5 95.1,414.7 96.3,414.6 97.4,414.7 98.5,414.5 99.7,414.3 100.8,413.8 101.9,413.5 103.1,413.6 104.2,413.7 105.3,413.8 106.5,413.5 107.6,413.5 108.7,413.2 109.9,412.9 111,412.7 112.1,412.5 113.3,412.7 114.4,412.8 115.5,412.8 116.7,412.6 117.8,412.5 118.9,412.6 120.1,412.9 121.2,412.8 122.3,412.6 123.5,412.4 124.6,412.4 125.7,412.6 126.9,412.5 128,412.3 129.1,412 130.3,412 131.4,412.1 132.5,412 133.7,411.9 134.8,411.8 135.9,411.8 137.1,412 138.2,411.9 139.3,412 140.5,411.7 141.6,411.4 142.7,411.3 143.9,411.5 145,411.7 146.1,411.7 147.3,411.4 148.4,411.4 149.5,411.6 150.7,411.5 151.8,411.3 152.9,411.1 154.1,411.3 155.2,411.1 156.3,411.4 157.5,411.2 158.6,411.1 159.7,410.8 160.9,410.6 162,411 163.1,410.8 164.3,410.9 165.4,410.7 166.5,410.8 167.7,410.7 168.8,410.6 169.9,410.8 171.1,410.7 172.2,410.8 173.3,410.6 174.5,410.4 175.6,410.3 176.7,410.2 177.9,410.3 179,410.4 180.1,410.4 181.2,410.2 182.4,410.1 183.5,410 184.6,410.1 185.8,410.1 186.9,410 188,410.1 189.2,410 190.3,410 191.4,410 192.6,410 193.7,410.3 194.8,410.3 196,410.5 197.1,410.3 198.2,410.4 199.4,410.2 200.5,410 201.6,409.9 202.8,409.9 203.9,410.1 205,410.2 206.2,410.4 207.3,410.7 208.4,410.7 209.6,410.5 210.7,410.3 211.8,410.4 213,410.4 214.1,410.6 215.2,410.7 216.4,411.1 217.5,411.2 218.6,411.3 219.8,411 220.9,411 222,411.1 223.2,411.5 224.3,411.6 225.4,411.8 226.6,411.8 227.7,411.9" fill="none" stroke="#FB6501" stroke-width="0.9" stroke-linejoin="round" marker-start="url(#n9)" marker-mid="url(#n9)" marker-end="url(#n9)"/>
<rect x="38.7" y="259.5" width="212.8" height="170.5" fill="none" stroke="#595959" stroke-width="1.4"/>
<path d="M62.2 430v-2M62.2 259.5v2M85.8 430v-3M85.8 259.5v3M109.5 430v-2M109.5 259.5v2M133.1 430v-3M133.1 259.5v3M156.8 430v-2M156.8 259.5v2M180.4 430v-3M180.4 259.5v3M204.1 430v-2M204.1 259.5v2M227.7 430v-3M227.7 259.5v3M38.7 412.9h2M251.5 412.9h-2M38.7 395.9h3M251.5 395.9h-3M38.7 378.9h2M251.5 378.9h-2M38.7 361.8h3M251.5 361.8h-3M38.7 344.8h2M251.5 344.8h-2M38.7 327.7h3M251.5 327.7h-3M38.7 310.6h2M251.5 310.6h-2M38.7 293.6h3M251.5 293.6h-3M38.7 276.5h2M251.5 276.5h-2" stroke="#4a4a4a" stroke-width="1" fill="none"/>
<text x="34.9" y="432.5" text-anchor="end" font-size="7.6" font-weight="bold" class="b" textLength="3.6" lengthAdjust="spacingAndGlyphs">0</text>
<text x="34.9" y="398.4" text-anchor="end" font-size="7.6" font-weight="bold" class="b" textLength="7.3" lengthAdjust="spacingAndGlyphs">50</text>
<text x="34.9" y="364.3" text-anchor="end" font-size="7.6" font-weight="bold" class="b" textLength="10.9" lengthAdjust="spacingAndGlyphs">100</text>
<text x="34.9" y="330.2" text-anchor="end" font-size="7.6" font-weight="bold" class="b" textLength="10.9" lengthAdjust="spacingAndGlyphs">150</text>
<text x="34.9" y="296.1" text-anchor="end" font-size="7.6" font-weight="bold" class="b" textLength="10.9" lengthAdjust="spacingAndGlyphs">200</text>
<text x="34.9" y="262" text-anchor="end" font-size="7.6" font-weight="bold" class="b" textLength="10.9" lengthAdjust="spacingAndGlyphs">250</text>
<text x="38.5" y="440.5" text-anchor="middle" font-size="7.6" font-weight="bold" class="b" textLength="3.6" lengthAdjust="spacingAndGlyphs">0</text>
<text x="85.8" y="440.5" text-anchor="middle" font-size="7.6" font-weight="bold" class="b" textLength="3.6" lengthAdjust="spacingAndGlyphs">5</text>
<text x="133.1" y="440.5" text-anchor="middle" font-size="7.6" font-weight="bold" class="b" textLength="7.3" lengthAdjust="spacingAndGlyphs">10</text>
<text x="180.4" y="440.5" text-anchor="middle" font-size="7.6" font-weight="bold" class="b" textLength="7.3" lengthAdjust="spacingAndGlyphs">15</text>
<text x="227.7" y="440.5" text-anchor="middle" font-size="7.6" font-weight="bold" class="b" textLength="7.3" lengthAdjust="spacingAndGlyphs">20</text>
<text x="96.5" y="455.3" font-size="9.2" font-weight="bold" class="b" textLength="97.3" lengthAdjust="spacingAndGlyphs">Shear displacement (mm)</text>
<text transform="translate(17 384.9) rotate(-90)" x="0" y="0" font-size="9.3" font-weight="bold" class="b" textLength="68.1" lengthAdjust="spacingAndGlyphs">Shear stress (kPa)</text>
<text x="127.7" y="484.6" font-size="14.5" class="c" textLength="14.2" lengthAdjust="spacingAndGlyphs">(<tspan font-weight="bold">c</tspan>)</text>
<path d="M39.6 264.5H54.4" stroke="#515151" stroke-width="1" opacity="0.9"/>
<circle cx="47" cy="264.5" r="1.3" fill="#515151"/>
<text x="56.2" y="266.4" font-size="6.6" font-weight="bold" class="b" textLength="34.4" lengthAdjust="spacingAndGlyphs" xml:space="preserve">100kPa 15%</text>
<path d="M39.6 272.5H54.4" stroke="#F14040" stroke-width="1" opacity="0.9"/>
<circle cx="47" cy="272.5" r="1.3" fill="#F14040"/>
<text x="56.2" y="274.6" font-size="6.6" font-weight="bold" class="b" textLength="34.4" lengthAdjust="spacingAndGlyphs" xml:space="preserve">200kPa 15%</text>
<path d="M39.6 280.5H54.4" stroke="#1A6FDF" stroke-width="1" opacity="0.9"/>
<circle cx="47" cy="280.5" r="1.3" fill="#1A6FDF"/>
<text x="56.2" y="282.8" font-size="6.6" font-weight="bold" class="b" textLength="34.4" lengthAdjust="spacingAndGlyphs" xml:space="preserve">300kPa 15%</text>
<path d="M39.6 288.5H54.4" stroke="#00CBCC" stroke-width="1" opacity="0.9"/>
<circle cx="47" cy="288.5" r="1.3" fill="#00CBCC"/>
<text x="56.2" y="291.1" font-size="6.6" font-weight="bold" class="b" textLength="34.4" lengthAdjust="spacingAndGlyphs" xml:space="preserve">100kPa 25%</text>
<path d="M39.6 296.5H54.4" stroke="#7D4E4E" stroke-width="1" opacity="0.9"/>
<circle cx="47" cy="296.5" r="1.3" fill="#7D4E4E"/>
<text x="56.2" y="299.2" font-size="6.6" font-weight="bold" class="b" textLength="34.4" lengthAdjust="spacingAndGlyphs" xml:space="preserve">200kPa 25%</text>
<path d="M39.6 304.5H54.4" stroke="#8E8E00" stroke-width="1" opacity="0.9"/>
<circle cx="47" cy="304.5" r="1.3" fill="#8E8E00"/>
<text x="56.2" y="307.2" font-size="6.6" font-weight="bold" class="b" textLength="34.4" lengthAdjust="spacingAndGlyphs" xml:space="preserve">300kPa 25%</text>
<path d="M95.2 264.5H108.6" stroke="#37AD6B" stroke-width="1" opacity="0.9"/>
<circle cx="101.9" cy="264.5" r="1.3" fill="#37AD6B"/>
<text x="110.5" y="266.4" font-size="6.6" font-weight="bold" class="b" textLength="34.4" lengthAdjust="spacingAndGlyphs" xml:space="preserve">100kPa 20%</text>
<path d="M95.2 272.5H108.6" stroke="#B177DE" stroke-width="1" opacity="0.9"/>
<circle cx="101.9" cy="272.5" r="1.3" fill="#B177DE"/>
<text x="110.5" y="274.6" font-size="6.6" font-weight="bold" class="b" textLength="34.4" lengthAdjust="spacingAndGlyphs" xml:space="preserve">200kPa 20%</text>
<path d="M95.2 280.5H108.6" stroke="#CC9900" stroke-width="1" opacity="0.9"/>
<circle cx="101.9" cy="280.5" r="1.3" fill="#CC9900"/>
<text x="110.5" y="282.8" font-size="6.6" font-weight="bold" class="b" textLength="34.4" lengthAdjust="spacingAndGlyphs" xml:space="preserve">300kPa 20%</text>
<path d="M95.2 288.5H108.6" stroke="#FB6501" stroke-width="1" opacity="0.9"/>
<circle cx="101.9" cy="288.5" r="1.3" fill="#FB6501"/>
<text x="110.5" y="291.1" font-size="6.6" font-weight="bold" class="b" textLength="31.2" lengthAdjust="spacingAndGlyphs" xml:space="preserve">25kPa 30%</text>
<path d="M95.2 296.5H108.6" stroke="#6699CC" stroke-width="1" opacity="0.9"/>
<circle cx="101.9" cy="296.5" r="1.3" fill="#6699CC"/>
<text x="110.5" y="299.2" font-size="6.6" font-weight="bold" class="b" textLength="31.2" lengthAdjust="spacingAndGlyphs" xml:space="preserve">50kPa 30%</text>
<path d="M95.2 304.5H108.6" stroke="#6FB802" stroke-width="1" opacity="0.9"/>
<text x="110.5" y="307.2" font-size="6.6" font-weight="bold" class="b" textLength="31.2" lengthAdjust="spacingAndGlyphs" xml:space="preserve">75kPa 30%</text>
<path d="M307.3 403.4H540.9M307.3 365.8H540.9M307.3 328.2H540.9M307.3 290.6H540.9" stroke="#d6d6d6" stroke-width="0.8" stroke-dasharray="2.5 2" fill="none"/>
<polyline points="307.5,441 311.6,408.1 315.8,390.2 319.9,383.5 324.1,378.7 328.2,374.7 332.4,370.6 336.6,366.6 340.7,362.1 344.9,357.8 349,353.7 353.1,350.6 357.3,347.7 361.4,345.4 365.6,342.5 369.8,340.3 373.9,337.5 378.1,335.6 382.2,333.3 386.4,331.6 390.5,329.5 394.6,327.1 398.8,324.6 403,321.7 407.1,319.2 411.2,315.9 415.4,312.8 419.6,309.5 423.7,307.1 427.9,304.6 432,302.4 436.1,300.2 440.3,298 444.5,296.3 448.6,294.5 452.8,293.1 456.9,292 461.1,291 465.2,289.8 469.4,288.2 473.5,286.3 477.7,284.7 481.8,283.4 485.9,282.3 490.1,281.4 494.2,280.9 498.4,280.3 502.6,279.6 506.7,279.3 510.9,279.1 515,279.3" fill="none" stroke="#1A6FDF" stroke-width="0.9" stroke-linejoin="round" marker-start="url(#n2)" marker-mid="url(#n2)" marker-end="url(#n2)"/>
<polyline points="307.5,441 311.6,414.7 315.8,396.9 319.9,389 324.1,383.9 328.2,379.8 332.4,376.3 336.6,372 340.7,368.2 344.9,364.4 349,360.9 353.1,357.9 357.3,355 361.4,352.4 365.6,350.2 369.8,347.9 373.9,346 378.1,344.1 382.2,342.1 386.4,340 390.5,337.8 394.6,335.3 398.8,332.4 403,329 407.1,326.2 411.2,323.2 415.4,320.9 419.6,318.9 423.7,317.2 427.9,315.5 432,313.8 436.1,312.1 440.3,311 444.5,309.8 448.6,309.1 452.8,308 456.9,307.3 461.1,306.4 465.2,305.4 469.4,304 473.5,302.1 477.7,300.5 481.8,298.9 485.9,298.5 490.1,298.1 494.2,297.9 498.4,297.6 502.6,297.5 506.7,297.6 510.9,297.6 515,297.5" fill="none" stroke="#CC9900" stroke-width="0.9" stroke-linejoin="round" marker-start="url(#n5)" marker-mid="url(#n5)" marker-end="url(#n5)"/>
<polyline points="307.5,441 311.6,422.1 315.8,411 319.9,400.6 324.1,390.3 328.2,383.4 332.4,378.7 336.6,375.2 340.7,372 344.9,369.5 349,367 353.1,364.6 357.3,362.1 361.4,359.9 365.6,357.9 369.8,356.1 373.9,354.6 378.1,352.7 382.2,351.4 386.4,350 390.5,348.8 394.6,347.5 398.8,346.3 403,345.2 407.1,343.8 411.2,341.5 415.4,339.4 419.6,337.6 423.7,336.4 427.9,335.3 432,334.3 436.1,333.5 440.3,332.7 444.5,331.6 448.6,330.3 452.8,328.2 456.9,325.8 461.1,323.8 465.2,322.2 469.4,321.5 473.5,320.7 477.7,320.4 481.8,320.2 485.9,320.3 490.1,320.3 494.2,320.3 498.4,320.1 502.6,320 506.7,320.1 510.9,320 515,320.1" fill="none" stroke="#B177DE" stroke-width="0.9" stroke-linejoin="round" marker-start="url(#n4)" marker-mid="url(#n4)" marker-end="url(#n4)"/>
<polyline points="307.5,441 311.6,419.1 315.8,403.3 319.9,392.1 324.1,385.4 328.2,380.9 332.4,377.8 336.6,375.3 340.7,372.9 344.9,370.8 349,368.3 353.1,366.1 357.3,364.1 361.4,362 365.6,359.6 369.8,357.2 373.9,355.4 378.1,354.3 382.2,353 386.4,351.7 390.5,350.6 394.6,349.8 398.8,348.9 403,347.9 407.1,347 411.2,346 415.4,344.8 419.6,343.5 423.7,342.2 427.9,340.9 432,340 436.1,338.6 440.3,337.3 444.5,335.9 448.6,335.3 452.8,334.6 456.9,334 461.1,333.1 465.2,332.3 469.4,331.1 473.5,329.8 477.7,328.3 481.8,326.6 485.9,324.9 490.1,323.6 494.2,322.9 498.4,322.4 502.6,321.6 506.7,320.8 510.9,320.4 515,320.2" fill="none" stroke="#F14040" stroke-width="0.9" stroke-linejoin="round" marker-start="url(#n1)" marker-mid="url(#n1)" marker-end="url(#n1)"/>
<polyline points="307.5,441 311.6,411 315.8,396.8 319.9,388.7 324.1,382.5 328.2,377.5 332.4,373.2 336.6,369.8 340.7,367.2 344.9,365.2 349,362.5 353.1,360 357.3,357.2 361.4,355 365.6,353.4 369.8,351.8 373.9,350.5 378.1,349.6 382.2,349.1 386.4,348.9 390.5,348.5 394.6,347.9 398.8,347.3 403,346.5 407.1,345.8 411.2,344.7 415.4,343.8 419.6,343 423.7,342.3 427.9,341.5 432,340.9 436.1,340.4 440.3,340.1 444.5,339.6 448.6,339.6 452.8,339.1 456.9,338.7 461.1,337.9 465.2,337.6 469.4,337.2 473.5,336.9 477.7,336.5 481.8,336.2 485.9,335.9 490.1,335.7 494.2,335.2 498.4,334.8 502.6,334.2 506.7,334 510.9,333.7 515,333.7" fill="none" stroke="#8E8E00" stroke-width="0.9" stroke-linejoin="round" marker-start="url(#n8)" marker-mid="url(#n8)" marker-end="url(#n8)"/>
<polyline points="307.5,441 311.6,419.1 315.8,402 319.9,391 324.1,385.3 328.2,381.2 332.4,378.4 336.6,376.3 340.7,374.8 344.9,373.6 349,372.1 353.1,371 357.3,369.8 361.4,369.4 365.6,368.5 369.8,367.7 373.9,366.7 378.1,365.6 382.2,364.9 386.4,364.1 390.5,363.3 394.6,362.7 398.8,362.1 403,361.9 407.1,361.2 411.2,360.8 415.4,360.1 419.6,359.8 423.7,359.4 427.9,359.1 432,358.8 436.1,358.4 440.3,358.3 444.5,357.9 448.6,357.5 452.8,356.9 456.9,356.2 461.1,355.8 465.2,355.4 469.4,355.5 473.5,355.4 477.7,355.3 481.8,355.3 485.9,354.8 490.1,354.6 494.2,354.2 498.4,354.3 502.6,353.9 506.7,353.3 510.9,353.1 515,353" fill="none" stroke="#7D4E4E" stroke-width="0.9" stroke-linejoin="round" marker-start="url(#n7)" marker-mid="url(#n7)" marker-end="url(#n7)"/>
<polyline points="307.5,441 311.6,422.6 315.8,405.5 319.9,394.5 324.1,390.9 328.2,388.3 332.4,387 336.6,385.7 340.7,385.2 344.9,384.4 349,384 353.1,383.3 357.3,382.8 361.4,382.2 365.6,381.5 369.8,380.8 373.9,380.1 378.1,379.6 382.2,378.9 386.4,378.3 390.5,377.9 394.6,377.2 398.8,376.7 403,376.2 407.1,375.6 411.2,375.2 415.4,374.8 419.6,374.8 423.7,374.8 427.9,374.6 432,374.4 436.1,374.1 440.3,374.2 444.5,374.2 448.6,374.1 452.8,373.9 456.9,373.7 461.1,373.7 465.2,373.6 469.4,373.6 473.5,373.8 477.7,373.7 481.8,373.6 485.9,373.8 490.1,374 494.2,374.3 498.4,374.2 502.6,374.3 506.7,374.2 510.9,374.5 515,374.7" fill="none" stroke="#515151" stroke-width="0.9" stroke-linejoin="round" marker-start="url(#n0)" marker-mid="url(#n0)" marker-end="url(#n0)"/>
<polyline points="307.5,441 311.6,422.3 315.8,407.8 319.9,401.9 324.1,397.8 328.2,394.8 332.4,392.9 336.6,391.6 340.7,390.1 344.9,389.1 349,388.3 353.1,387.8 357.3,387.5 361.4,386.8 365.6,386.2 369.8,385.3 373.9,384.5 378.1,384.2 382.2,383.4 386.4,382.8 390.5,382.3 394.6,381.9 398.8,381.4 403,380.5 407.1,379.8 411.2,379.3 415.4,378.9 419.6,378.7 423.7,378.7 427.9,378.8 432,378.7 436.1,378.9 440.3,378.6 444.5,378.3 448.6,377.7 452.8,377.9 456.9,377.9 461.1,378.1 465.2,377.9 469.4,377.8 473.5,377.9 477.7,378.1 481.8,378.6 485.9,378.9 490.1,378.8 494.2,378.7 498.4,378.7 502.6,379.3 506.7,379.7 510.9,380.4 515,380.6" fill="none" stroke="#37AD6B" stroke-width="0.9" stroke-linejoin="round" marker-start="url(#n3)" marker-mid="url(#n3)" marker-end="url(#n3)"/>
<polyline points="307.5,441 311.6,424.5 315.8,419.4 319.9,417.2 324.1,415.6 328.2,414.7 332.4,413.3 336.6,412.4 340.7,411.3 344.9,410.5 349,409.2 353.1,408.1 357.3,407.1 361.4,406.4 365.6,405.3 369.8,404.4 373.9,403.5 378.1,402.8 382.2,402 386.4,401.4 390.5,400.8 394.6,400.1 398.8,399.8 403,399.3 407.1,398.9 411.2,398.4 415.4,398.2 419.6,398.3 423.7,397.8 427.9,397.5 432,396.9 436.1,396.6 440.3,396.2 444.5,395.9 448.6,395.4 452.8,395 456.9,394.6 461.1,394.2 465.2,393.8 469.4,393.3 473.5,393.1 477.7,392.7 481.8,392.5 485.9,392 490.1,391.8 494.2,391.5 498.4,391.2 502.6,390.6 506.7,390.4 510.9,389.8 515,389.6" fill="none" stroke="#00CBCC" stroke-width="0.9" stroke-linejoin="round" marker-start="url(#n6)" marker-mid="url(#n6)" marker-end="url(#n6)"/>
<polyline points="307.5,441 311.6,434.2 315.8,433.2 319.9,432.3 324.1,429.9 328.2,421.9 332.4,418.7 336.6,417.1 340.7,415.5 344.9,414.4 349,413.3 353.1,411.9 357.3,410.6 361.4,409.2 365.6,407.9 369.8,406.7 373.9,405.7 378.1,405.1 382.2,404.2 386.4,403.4 390.5,402.9 394.6,402.6 398.8,402.2 403,401.3 407.1,400.4 411.2,399.7 415.4,399.2 419.6,398.7 423.7,398.6 427.9,398.5 432,398.7 436.1,398.5 440.3,398.6 444.5,398.8 448.6,399 452.8,399 456.9,398.9 461.1,398.8 465.2,398.7 469.4,398.4 473.5,397.8 477.7,398 481.8,398 485.9,397.8 490.1,397.7 494.2,397.6 498.4,397.5 502.6,397.6 506.7,397.7 510.9,397.7 515,397.9" fill="none" stroke="#6FB802" stroke-width="1.0" stroke-linejoin="round"/>
<polyline points="307.5,441 311.6,433.9 315.8,432 319.9,428.5 324.1,424.8 328.2,421.3 332.4,418.5 336.6,416.9 340.7,416.1 344.9,415.6 349,415.2 353.1,414.8 357.3,414.5 361.4,414.2 365.6,413.8 369.8,413.2 373.9,413 378.1,412.7 382.2,412.5 386.4,412.3 390.5,412.1 394.6,412.1 398.8,411.8 403,411.4 407.1,411.1 411.2,411 415.4,411 419.6,410.7 423.7,410.7 427.9,410.5 432,410.6 436.1,410.3 440.3,410.2 444.5,409.7 448.6,409.9 452.8,409.6 456.9,409.8 461.1,409.3 465.2,409.4 469.4,409.3 473.5,409.3 477.7,409.3 481.8,409.1 485.9,409.2 490.1,409.2 494.2,409.1 498.4,409.2 502.6,409 506.7,409 510.9,409.1 515,409.2" fill="none" stroke="#6699CC" stroke-width="0.9" stroke-linejoin="round" marker-start="url(#n10)" marker-mid="url(#n10)" marker-end="url(#n10)"/>
<polyline points="307.5,441 311.6,438.3 315.8,437 319.9,436.3 324.1,435.1 328.2,432.1 332.4,429.5 336.6,427.9 340.7,427.1 344.9,426.3 349,425.7 353.1,425.1 357.3,424.8 361.4,424.3 365.6,424.1 369.8,423.9 373.9,424.1 378.1,423.8 382.2,423.5 386.4,423.2 390.5,423.4 394.6,423.4 398.8,423.3 403,422.6 407.1,422.3 411.2,422 415.4,422 419.6,421.8 423.7,421.9 427.9,422.1 432,422.4 436.1,422.3 440.3,422.2 444.5,422 448.6,422.1 452.8,422 456.9,422.1 461.1,421.7 465.2,421.8 469.4,421.4 473.5,421.4 477.7,421.5 481.8,421.8 485.9,421.9 490.1,422 494.2,422 498.4,422.2 502.6,422 506.7,422.2 510.9,422.2 515,422.3" fill="none" stroke="#FB6501" stroke-width="0.9" stroke-linejoin="round" marker-start="url(#n9)" marker-mid="url(#n9)" marker-end="url(#n9)"/>
<rect x="307.3" y="252.9" width="233.6" height="188.1" fill="none" stroke="#595959" stroke-width="1.4"/>
<path d="M333.4 441v-2M333.4 252.9v2M359.4 441v-3M359.4 252.9v3M385.3 441v-2M385.3 252.9v2M411.2 441v-3M411.2 252.9v3M437.2 441v-2M437.2 252.9v2M463.1 441v-3M463.1 252.9v3M489.1 441v-2M489.1 252.9v2M515 441v-3M515 252.9v3M307.3 422.2h2M540.9 422.2h-2M307.3 403.4h3M540.9 403.4h-3M307.3 384.6h2M540.9 384.6h-2M307.3 365.8h3M540.9 365.8h-3M307.3 347h2M540.9 347h-2M307.3 328.2h3M540.9 328.2h-3M307.3 309.4h2M540.9 309.4h-2M307.3 290.6h3M540.9 290.6h-3M307.3 271.8h2M540.9 271.8h-2" stroke="#4a4a4a" stroke-width="1" fill="none"/>
<text x="303.1" y="443.7" text-anchor="end" font-size="8.2" font-weight="bold" class="b" textLength="4.1" lengthAdjust="spacingAndGlyphs">0</text>
<text x="303.1" y="406.1" text-anchor="end" font-size="8.2" font-weight="bold" class="b" textLength="8.2" lengthAdjust="spacingAndGlyphs">50</text>
<text x="303.1" y="368.5" text-anchor="end" font-size="8.2" font-weight="bold" class="b" textLength="12.3" lengthAdjust="spacingAndGlyphs">100</text>
<text x="303.1" y="330.9" text-anchor="end" font-size="8.2" font-weight="bold" class="b" textLength="12.3" lengthAdjust="spacingAndGlyphs">150</text>
<text x="303.1" y="293.3" text-anchor="end" font-size="8.2" font-weight="bold" class="b" textLength="12.3" lengthAdjust="spacingAndGlyphs">200</text>
<text x="303.1" y="255.7" text-anchor="end" font-size="8.2" font-weight="bold" class="b" textLength="12.3" lengthAdjust="spacingAndGlyphs">250</text>
<text x="307.5" y="452.3" text-anchor="middle" font-size="8.2" font-weight="bold" class="b" textLength="4.1" lengthAdjust="spacingAndGlyphs">0</text>
<text x="359.4" y="452.3" text-anchor="middle" font-size="8.2" font-weight="bold" class="b" textLength="4.1" lengthAdjust="spacingAndGlyphs">5</text>
<text x="411.2" y="452.3" text-anchor="middle" font-size="8.2" font-weight="bold" class="b" textLength="8.2" lengthAdjust="spacingAndGlyphs">10</text>
<text x="463.1" y="452.3" text-anchor="middle" font-size="8.2" font-weight="bold" class="b" textLength="8.2" lengthAdjust="spacingAndGlyphs">15</text>
<text x="515" y="452.3" text-anchor="middle" font-size="8.2" font-weight="bold" class="b" textLength="8.2" lengthAdjust="spacingAndGlyphs">20</text>
<text x="367.3" y="459.5" font-size="9.1" font-weight="bold" class="b" textLength="96.5" lengthAdjust="spacingAndGlyphs">Shear displacement (mm)</text>
<text transform="translate(289 389.2) rotate(-90)" x="0" y="0" font-size="9.2" font-weight="bold" class="b" textLength="68" lengthAdjust="spacingAndGlyphs">Shear stress (kPa)</text>
<text x="406.7" y="484.6" font-size="14.5" class="c" textLength="17.3" lengthAdjust="spacingAndGlyphs">(<tspan font-weight="bold">d</tspan>)</text>
<path d="M310.4 258.5H326.7" stroke="#515151" stroke-width="1" opacity="0.9"/>
<circle cx="318.5" cy="258.5" r="1.4" fill="#515151"/>
<text x="328" y="260.4" font-size="7.2" font-weight="bold" class="b" textLength="38.2" lengthAdjust="spacingAndGlyphs" xml:space="preserve">100kPa 10%</text>
<path d="M310.4 266.5H326.7" stroke="#F14040" stroke-width="1" opacity="0.9"/>
<circle cx="318.5" cy="266.5" r="1.4" fill="#F14040"/>
<text x="328" y="269.2" font-size="7.2" font-weight="bold" class="b" textLength="38.2" lengthAdjust="spacingAndGlyphs" xml:space="preserve">200kPa 10%</text>
<path d="M310.4 275.5H326.7" stroke="#1A6FDF" stroke-width="1" opacity="0.9"/>
<circle cx="318.5" cy="275.5" r="1.4" fill="#1A6FDF"/>
<text x="328" y="278.1" font-size="7.2" font-weight="bold" class="b" textLength="38.2" lengthAdjust="spacingAndGlyphs" xml:space="preserve">300kPa 10%</text>
<path d="M310.4 284.5H326.7" stroke="#00CBCC" stroke-width="1" opacity="0.9"/>
<circle cx="318.5" cy="284.5" r="1.4" fill="#00CBCC"/>
<text x="328" y="287" font-size="7.2" font-weight="bold" class="b" textLength="38.2" lengthAdjust="spacingAndGlyphs" xml:space="preserve">100kPa 20%</text>
<path d="M310.4 293.5H326.7" stroke="#7D4E4E" stroke-width="1" opacity="0.9"/>
<circle cx="318.5" cy="293.5" r="1.4" fill="#7D4E4E"/>
<text x="328" y="295.7" font-size="7.2" font-weight="bold" class="b" textLength="38.2" lengthAdjust="spacingAndGlyphs" xml:space="preserve">200kPa 20%</text>
<path d="M310.4 302.5H326.7" stroke="#8E8E00" stroke-width="1" opacity="0.9"/>
<circle cx="318.5" cy="302.5" r="1.4" fill="#8E8E00"/>
<text x="328" y="304.8" font-size="7.2" font-weight="bold" class="b" textLength="38.2" lengthAdjust="spacingAndGlyphs" xml:space="preserve">300kPa 20%</text>
<path d="M370.5 258.5H386.8" stroke="#37AD6B" stroke-width="1" opacity="0.9"/>
<circle cx="378.6" cy="258.5" r="1.4" fill="#37AD6B"/>
<text x="387.9" y="260.4" font-size="7.2" font-weight="bold" class="b" textLength="38.2" lengthAdjust="spacingAndGlyphs" xml:space="preserve">100kPa 15%</text>
<path d="M370.5 266.5H386.8" stroke="#B177DE" stroke-width="1" opacity="0.9"/>
<circle cx="378.6" cy="266.5" r="1.4" fill="#B177DE"/>
<text x="387.9" y="269.2" font-size="7.2" font-weight="bold" class="b" textLength="38.2" lengthAdjust="spacingAndGlyphs" xml:space="preserve">200kPa 15%</text>
<path d="M370.5 275.5H386.8" stroke="#CC9900" stroke-width="1" opacity="0.9"/>
<circle cx="378.6" cy="275.5" r="1.4" fill="#CC9900"/>
<text x="387.9" y="278.1" font-size="7.2" font-weight="bold" class="b" textLength="38.2" lengthAdjust="spacingAndGlyphs" xml:space="preserve">300kPa 15%</text>
<path d="M370.5 284.5H386.8" stroke="#FB6501" stroke-width="1" opacity="0.9"/>
<circle cx="378.6" cy="284.5" r="1.4" fill="#FB6501"/>
<text x="387.9" y="287" font-size="7.2" font-weight="bold" class="b" textLength="36.4" lengthAdjust="spacingAndGlyphs" xml:space="preserve">50kPa  25%</text>
<path d="M370.5 293.5H386.8" stroke="#6699CC" stroke-width="1" opacity="0.9"/>
<circle cx="378.6" cy="293.5" r="1.4" fill="#6699CC"/>
<text x="387.9" y="295.7" font-size="7.2" font-weight="bold" class="b" textLength="38.2" lengthAdjust="spacingAndGlyphs" xml:space="preserve">100kPa 25%</text>
<path d="M370.5 302.5H386.8" stroke="#6FB802" stroke-width="1" opacity="0.9"/>
<text x="387.9" y="304.8" font-size="7.2" font-weight="bold" class="b" textLength="38.2" lengthAdjust="spacingAndGlyphs" xml:space="preserve">150kPa 25%</text>
</svg>
</body></html>
